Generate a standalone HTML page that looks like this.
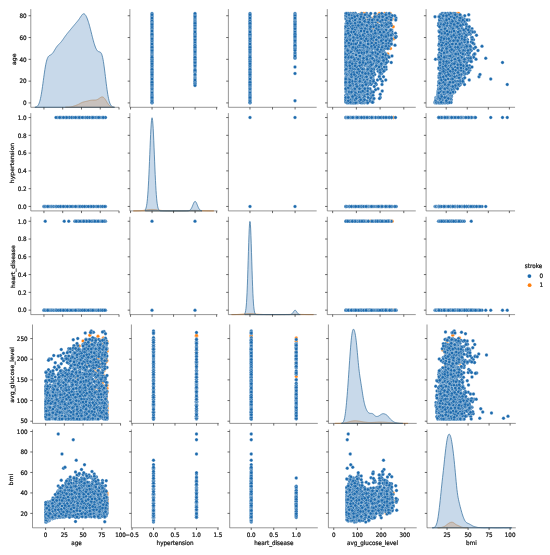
<!DOCTYPE html><html><head><meta charset="utf-8"><title>Pairplot</title><style>html,body{margin:0;padding:0;background:#fff;}svg{display:block;}</style></head><body><svg width="550" height="555" viewBox="0 0 550 555"><defs><marker id="mb" markerUnits="userSpaceOnUse" markerWidth="20" markerHeight="20" refX="10" refY="10" overflow="visible"><circle cx="10" cy="10" r="6.72" fill="#1c6aad" stroke="#fff" stroke-width="1.12"/></marker><marker id="mo" markerUnits="userSpaceOnUse" markerWidth="20" markerHeight="20" refX="10" refY="10" overflow="visible"><circle cx="10" cy="10" r="6.72" fill="#ff7f0e" stroke="#fff" stroke-width="1.12"/></marker><filter id="bl" x="0" y="0" width="1" height="1" color-interpolation-filters="sRGB"><feGaussianBlur in="SourceGraphic" stdDeviation="0.4" result="a"/></filter></defs><rect width="550" height="555" fill="#fff"/><g filter="url(#bl)"><rect width="550" height="555" fill="#fff"/><path d="M65.35 107.3L65.35 107.3 65.59 107.3 65.84 107.29 66.08 107.29 66.33 107.29 66.57 107.29 66.82 107.28 67.06 107.28 67.31 107.27 67.55 107.27 67.8 107.26 68.04 107.25 68.29 107.24 68.53 107.23 68.78 107.21 69.02 107.19 69.27 107.17 69.52 107.15 69.76 107.12 70.01 107.09 70.25 107.05 70.5 107.01 70.74 106.97 70.99 106.92 71.23 106.87 71.48 106.81 71.72 106.75 71.97 106.69 72.21 106.62 72.46 106.55 72.7 106.47 72.95 106.39 73.19 106.31 73.44 106.23 73.68 106.14 73.93 106.06 74.17 105.97 74.42 105.88 74.66 105.8 74.91 105.71 75.16 105.62 75.4 105.54 75.65 105.45 75.89 105.36 76.14 105.27 76.38 105.19 76.63 105.1 76.87 105.01 77.12 104.91 77.36 104.82 77.61 104.71 77.85 104.61 78.1 104.5 78.34 104.39 78.59 104.27 78.83 104.15 79.08 104.02 79.32 103.89 79.57 103.75 79.81 103.62 80.06 103.48 80.3 103.34 80.55 103.21 80.8 103.07 81.04 102.94 81.29 102.82 81.53 102.69 81.78 102.58 82.02 102.47 82.27 102.37 82.51 102.27 82.76 102.18 83 102.1 83.25 102.03 83.49 101.96 83.74 101.89 83.98 101.83 84.23 101.77 84.47 101.72 84.72 101.66 84.96 101.61 85.21 101.56 85.45 101.51 85.7 101.45 85.95 101.4 86.19 101.34 86.44 101.28 86.68 101.22 86.93 101.16 87.17 101.1 87.42 101.04 87.66 100.98 87.91 100.92 88.15 100.85 88.4 100.79 88.64 100.73 88.89 100.67 89.13 100.61 89.38 100.56 89.62 100.51 89.87 100.46 90.11 100.41 90.36 100.36 90.6 100.32 90.85 100.29 91.09 100.25 91.34 100.22 91.59 100.19 91.83 100.17 92.08 100.15 92.32 100.13 92.57 100.12 92.81 100.11 93.06 100.11 93.3 100.1 93.55 100.1 93.79 100.1 94.04 100.1 94.28 100.09 94.53 100.09 94.77 100.08 95.02 100.07 95.26 100.05 95.51 100.03 95.75 100 96 99.96 96.24 99.91 96.49 99.85 96.73 99.78 96.98 99.69 97.23 99.59 97.47 99.48 97.72 99.36 97.96 99.23 98.21 99.08 98.45 98.92 98.7 98.76 98.94 98.59 99.19 98.42 99.43 98.24 99.68 98.06 99.92 97.89 100.17 97.72 100.41 97.56 100.66 97.42 100.9 97.29 101.15 97.17 101.39 97.08 101.64 97.01 101.88 96.96 102.13 96.94 102.37 96.95 102.62 96.99 102.87 97.07 103.11 97.17 103.36 97.31 103.6 97.48 103.85 97.68 104.09 97.91 104.34 98.18 104.58 98.47 104.83 98.78 105.07 99.12 105.32 99.48 105.56 99.86 105.81 100.25 106.05 100.65 106.3 101.06 106.54 101.47 106.79 101.89 107.03 102.3 107.28 102.7 107.52 103.09 107.77 103.47 108.01 103.84 108.26 104.19 108.51 104.52 108.75 104.83 109 105.12 109.24 105.38 109.49 105.63 109.73 105.85 109.98 106.05 110.22 106.23 110.47 106.39 110.71 106.53 110.96 106.65 111.2 106.76 111.45 106.85 111.69 106.93 111.94 107 112.18 107.05 112.43 107.1 112.67 107.14 112.92 107.17 113.16 107.2 113.41 107.22 113.65 107.24 113.9 107.25 114.15 107.26L114.15 107.3Z" fill="#ff7f0e" fill-opacity=".25" stroke="#e0a060" stroke-width="0.75" stroke-linejoin="round"/><path d="M34.9 107.3L34.9 107.19 35.3 107.13 35.7 107.05 36.1 106.93 36.5 106.76 36.9 106.53 37.3 106.23 37.7 105.83 38.1 105.3 38.5 104.64 38.9 103.8 39.3 102.78 39.7 101.54 40.11 100.08 40.51 98.38 40.91 96.43 41.31 94.25 41.71 91.84 42.11 89.24 42.51 86.48 42.91 83.6 43.31 80.67 43.71 77.72 44.11 74.83 44.51 72.04 44.91 69.41 45.31 66.98 45.71 64.78 46.11 62.83 46.51 61.15 46.92 59.73 47.32 58.56 47.72 57.63 48.12 56.9 48.52 56.34 48.92 55.93 49.32 55.61 49.72 55.37 50.12 55.16 50.52 54.95 50.92 54.72 51.32 54.46 51.72 54.14 52.12 53.76 52.52 53.31 52.92 52.8 53.32 52.23 53.73 51.61 54.13 50.96 54.53 50.28 54.93 49.6 55.33 48.92 55.73 48.27 56.13 47.64 56.53 47.05 56.93 46.5 57.33 45.99 57.73 45.51 58.13 45.07 58.53 44.65 58.93 44.24 59.33 43.84 59.73 43.44 60.14 43.02 60.54 42.59 60.94 42.13 61.34 41.65 61.74 41.14 62.14 40.61 62.54 40.07 62.94 39.5 63.34 38.92 63.74 38.34 64.14 37.76 64.54 37.18 64.94 36.61 65.34 36.04 65.74 35.49 66.14 34.95 66.54 34.43 66.95 33.91 67.35 33.4 67.75 32.91 68.15 32.42 68.55 31.93 68.95 31.44 69.35 30.96 69.75 30.48 70.15 30 70.55 29.52 70.95 29.04 71.35 28.56 71.75 28.08 72.15 27.59 72.55 27.11 72.95 26.63 73.35 26.14 73.76 25.66 74.16 25.18 74.56 24.7 74.96 24.22 75.36 23.74 75.76 23.27 76.16 22.8 76.56 22.32 76.96 21.85 77.36 21.37 77.76 20.88 78.16 20.37 78.56 19.85 78.96 19.3 79.36 18.73 79.76 18.14 80.16 17.54 80.57 16.92 80.97 16.32 81.37 15.73 81.77 15.19 82.17 14.71 82.57 14.31 82.97 14.01 83.37 13.83 83.77 13.78 84.17 13.85 84.57 14.07 84.97 14.42 85.37 14.9 85.77 15.49 86.17 16.21 86.57 17.02 86.97 17.94 87.38 18.95 87.78 20.04 88.18 21.22 88.58 22.47 88.98 23.81 89.38 25.21 89.78 26.67 90.18 28.19 90.58 29.75 90.98 31.34 91.38 32.96 91.78 34.57 92.18 36.18 92.58 37.76 92.98 39.3 93.38 40.79 93.78 42.22 94.19 43.57 94.59 44.84 94.99 46.02 95.39 47.1 95.79 48.07 96.19 48.93 96.59 49.67 96.99 50.29 97.39 50.78 97.79 51.16 98.19 51.44 98.59 51.62 98.99 51.74 99.39 51.84 99.79 51.95 100.19 52.12 100.59 52.41 101 52.87 101.4 53.55 101.8 54.5 102.2 55.76 102.6 57.35 103 59.28 103.4 61.54 103.8 64.12 104.2 66.96 104.6 70.03 105 73.24 105.4 76.55 105.8 79.87 106.2 83.13 106.6 86.27 107 89.25 107.4 92 107.81 94.51 108.21 96.75 108.61 98.72 109.01 100.42 109.41 101.86 109.81 103.06 110.21 104.04 110.61 104.83 111.01 105.46 111.41 105.95 111.81 106.32 112.21 106.6 112.61 106.81 113.01 106.96 113.41 107.07 113.81 107.14 114.21 107.2 114.62 107.23L114.62 107.3Z" fill="#2468aa" fill-opacity=".25" stroke="#36709f" stroke-width="0.75" stroke-linejoin="round"/><path transform="scale(.25)" d="M780 329 780 268 780 259 780 290 608 411 780 285 780 255 780 194 780 303 780 311 780 338 780 333 780 176 780 220 780 342 780 185 780 120 780 85 780 198 780 316 780 59 780 76 780 111 780 98 780 150 780 80 780 63 608 54 780 224 780 141 780 163 780 277 780 172 780 107 780 216 780 242 608 411 780 72 780 202 780 89 780 181 608 168 780 263 780 233 780 168 608 133 780 281 608 377 608 220 780 54 608 111 780 102 780 211 780 67 780 137 608 120 780 246 780 325 780 155 608 333 780 159 608 102 608 399 608 409 608 359 780 250 780 207 780 320 608 325 608 364 608 181 780 115 608 409 608 89 608 115 608 150 608 107 608 268 608 233 780 237 608 368 608 372 608 93 608 381 608 159 780 189 608 351 608 281 608 216 608 76 608 63 608 242 608 259 608 185 608 128 608 85 608 403 608 146 608 307 608 355 608 124 780 93 608 211 608 80 608 207 608 237 608 294 608 311 608 320 608 194 608 98 608 67 780 298 608 172 608 346 608 198 608 272 608 224 608 394 608 72 608 202 608 250 780 124 608 386 780 146 608 342 608 189 608 338 608 285 608 390 608 329 780 229 608 141 608 290 608 303 608 263 608 316 608 246 780 133 608 255 608 137 608 298 608 277 608 163 608 155 608 59 780 128 608 176 608 229" fill="none" marker-start="url(#mb)" marker-mid="url(#mb)" marker-end="url(#mb)"/><path transform="scale(.25)" d="M1180 268 1180 220 1180 233 1180 403 1180 189 1180 159 1000 411 1180 141 1180 54 1180 111 1180 198 1180 124 1180 229 1180 194 1180 89 1180 216 1180 102 1180 80 1180 85 1180 133 1180 172 1180 176 1180 155 1180 150 1180 93 1180 107 1180 76 1180 168 1180 120 1180 128 1180 163 1180 67 1180 294 1180 59 1180 63 1180 185 1000 411 1000 168 1000 377 1000 220 1000 54 1180 211 1000 111 1180 137 1000 120 1180 146 1000 333 1000 102 1000 399 1000 409 1000 359 1180 181 1180 224 1000 325 1000 364 1000 181 1000 115 1000 409 1000 89 1180 115 1000 150 1000 107 1000 268 1000 233 1000 368 1000 372 1000 381 1000 159 1000 202 1000 351 1000 281 1000 216 1000 76 1180 72 1000 63 1000 242 1000 259 1000 185 1000 85 1000 403 1000 307 1000 355 1000 98 1000 93 1000 211 1000 80 1000 207 1000 237 1000 294 1000 311 1000 320 1000 194 1180 98 1000 67 1000 172 1000 346 1000 198 1000 272 1000 224 1000 394 1000 72 1180 202 1000 250 1000 124 1000 386 1000 146 1000 342 1000 189 1000 338 1000 285 1000 390 1000 329 1000 141 1000 290 1000 303 1000 263 1000 316 1000 246 1000 133 1000 255 1000 137 1000 298 1000 277 1000 163 1000 155 1000 59 1000 128 1000 176 1000 229" fill="none" marker-start="url(#mb)" marker-mid="url(#mb)" marker-end="url(#mb)"/><path transform="scale(.25)" d="M1573 107 1490 115 1575 155 1562 194 1444 54 1467 80 1454 54 1569 76 1501 59 1524 98 1539 54 1565 98 1551 216 1513 63 1561 54 1417 54 1509 89 1481 72 1494 168 1400 54 1430 59 1494 72 1410 54 1555 80 1461 54 1517 54 1515 59 1494 76 1566 76" fill="none" marker-start="url(#mo)" marker-mid="url(#mo)" marker-end="url(#mo)"/><path transform="scale(.25)" d="M1520 294 1512 355 1383 115 1584 72 1383 185 1529 325 1457 111 1566 72 1521 390 1446 381 1482 233 1528 338 1383 381 1511 277 1519 303 1385 93 1480 311 1500 268 1383 72 1567 120 1545 220 1491 272 1476 377 1534 307 1442 377 1582 133 1502 89 1470 342 1494 281 1579 63 1566 159 1472 80 1384 67 1445 411 1505 338 1390 54 1461 263 1560 120 1481 72 1458 411 1470 67 1526 115 1494 102 1458 346 1384 320 1470 89 1421 411 1445 111 1402 411 1469 277 1472 107 1518 255 1470 216 1526 76 1515 80 1567 141 1513 172 1490 128 1512 137 1563 146 1383 198 1383 224 1583 80 1566 176 1383 133 1568 128 1469 411 1517 307 1403 54 1545 54 1434 410 1492 307 1457 72 1525 67 1544 277 1562 141 1486 202 1484 381 1531 255 1521 377 1491 403 1452 272 1549 124 1420 54 1527 294 1499 298 1524 272 1481 403 1473 368 1400 411 1527 259 1494 320 1383 294 1511 146 1383 329 1491 98 1485 364 1486 272 1438 381 1504 80 1429 411 1471 351 1469 211 1383 259 1387 377 1554 194 1386 93 1384 202 1453 63 1467 54 1513 285 1477 98 1498 194 1517 176 1465 211 1388 411 1464 198 1384 285 1422 54 1479 285 1519 277 1460 137 1480 355 1480 377 1485 390 1459 137 1481 194 1460 386 1555 107 1473 320 1469 115 1505 255 1502 333 1546 115 1383 207 1409 411 1555 141 1540 168 1496 394 1524 146 1541 172 1466 242 1481 281 1521 250 1581 146 1467 146 1484 268 1557 185 1387 386 1383 54 1483 406 1483 80 1510 98 1462 89 1470 316 1542 255 1475 372 1459 351 1455 137 1383 394 1522 294 1526 98 1483 307 1477 93 1383 404 1533 59 1503 76 1446 268 1383 325 1492 220 1492 381 1518 181 1532 250 1491 303 1468 263 1468 307 1496 80 1458 377 1539 155 1474 146 1460 224 1447 329 1387 202 1495 76 1428 409 1383 246 1383 141 1389 115 1478 80 1520 220 1383 176 1482 298 1525 176 1458 311 1537 281 1502 359 1466 338 1384 102 1384 368 1552 224 1469 316 1455 246 1422 54 1474 89 1458 285 1476 220 1544 268 1516 155 1384 150 1471 272 1516 102 1456 394 1535 107 1460 229 1523 211 1460 250 1488 194 1511 128 1524 159 1491 409 1481 237 1533 246 1457 98 1469 285 1472 268 1413 411 1460 202 1463 233 1489 242 1459 333 1486 224 1478 146 1457 386 1413 411 1383 220 1529 364 1502 224 1517 59 1487 102 1541 176 1483 372 1530 233 1545 233 1543 194 1458 202 1565 102 1526 176 1460 368 1487 120 1452 346 1556 102 1500 207 1387 93 1517 111 1526 89 1556 229 1468 242 1525 229 1413 54 1457 76 1510 137 1467 59 1504 198 1513 229 1514 181 1518 394 1545 111 1383 408 1564 163 1493 163 1538 137 1478 207 1383 233 1520 120 1473 181 1479 259 1468 364 1459 172 1444 320 1561 76 1545 120 1383 211 1565 137 1385 364 1466 255 1501 54 1474 298 1480 404 1453 224 1532 224 1501 120 1475 338 1484 372 1392 411 1448 80 1468 320 1515 72 1465 102 1486 207 1383 268 1473 176 1537 93 1383 399 1563 59 1474 137 1511 163 1518 85 1383 237 1392 404 1391 115 1453 233 1386 325 1538 194 1481 155 1557 181 1486 311 1439 409 1395 364 1536 246 1452 351 1544 128 1445 329 1547 172 1384 176 1540 229 1490 408 1384 194 1460 80 1454 172 1488 333 1499 246 1447 54 1537 268 1477 194 1383 250 1544 72 1535 120 1567 141 1383 155 1459 290 1445 272 1457 338 1468 403 1454 67 1485 189 1565 250 1461 338 1531 76 1426 59 1556 89 1468 229 1403 411 1470 242 1460 59 1499 185 1531 102 1535 63 1553 155 1489 237 1389 311 1488 368 1457 410 1551 246 1547 107 1538 211 1454 250 1527 211 1526 141 1489 320 1548 85 1546 150 1498 237 1497 242 1384 263 1568 224 1481 325 1527 102 1507 263 1530 120 1467 102 1384 163 1524 155 1504 146 1398 325 1383 281 1495 290 1515 150 1383 172 1533 80 1543 216 1383 355 1455 320 1449 311 1429 377 1449 294 1452 229 1509 67 1532 224 1493 137 1516 168 1452 220 1456 120 1510 202 1454 168 1517 263 1532 159 1423 368 1502 220 1445 372 1521 242 1390 189 1442 390 1384 76 1527 63 1460 307 1494 320 1429 333 1398 115 1386 290 1525 150 1411 59 1439 390 1473 168 1471 411 1522 85 1546 137 1424 63 1522 168 1402 124 1470 120 1503 111 1514 107 1555 59 1453 303 1440 233 1542 220 1494 325 1482 163 1506 133 1475 63 1556 128 1483 141 1386 67 1434 59 1497 346 1453 394 1502 211 1473 159 1500 124 1383 229 1485 211 1546 250 1441 338 1392 316 1490 259 1539 120 1536 185 1546 176 1390 80 1411 85 1445 141 1391 120 1437 381 1481 246 1532 216 1429 98 1434 124 1384 124 1384 141 1383 107 1453 102 1510 320 1491 233 1407 111 1545 237 1472 202 1385 307 1390 272 1401 410 1515 216 1478 63 1432 405 1426 386 1516 233 1550 159 1398 303 1418 85 1530 185 1527 54 1439 329 1458 207 1508 229 1554 185 1507 229 1461 115 1492 159 1472 224 1523 263 1434 93 1526 168 1454 408 1406 124 1483 128 1487 259 1469 202 1471 355 1530 80 1536 146 1453 159 1559 124 1426 85 1484 338 1455 194 1548 67 1516 211 1492 255 1487 146 1385 128 1433 390 1442 311 1525 255 1446 263 1481 107 1504 102 1452 172 1483 120 1497 146 1535 237 1385 359 1408 411 1425 359 1426 120 1516 242 1553 107 1533 202 1453 176 1384 298 1555 172 1394 124 1476 268 1479 120 1503 67 1419 359 1408 377 1451 372 1488 85 1526 207 1480 176 1552 133 1509 250 1448 307 1436 386 1430 63 1450 216 1403 59 1483 54 1506 224 1470 128 1545 80 1446 399 1394 281 1470 364 1452 155 1542 76 1456 277 1395 298 1439 307 1471 294 1507 115 1458 259 1384 242 1472 250 1453 202 1408 124 1515 246 1433 89 1483 111 1585 146 1391 211 1383 63 1384 294 1543 93 1522 316 1445 355 1460 333 1413 216 1447 202 1436 329 1431 325 1394 333 1422 102 1383 342 1489 89 1426 111 1420 93 1441 59 1462 255 1466 307 1484 220 1444 277 1516 268 1486 233 1416 111 1517 67 1388 242 1441 242 1420 311 1383 159 1514 133 1402 107 1550 76 1531 159 1462 325 1510 80 1394 54 1393 115 1451 411 1447 351 1429 246 1505 159 1450 298 1384 220 1436 364 1550 98 1479 394 1451 76 1410 403 1527 202 1411 146 1458 368 1448 176 1488 294 1495 176 1531 172 1446 250 1421 368 1482 250 1523 281 1450 255 1459 359 1444 342 1426 409 1505 181 1391 277 1481 272 1435 72 1400 281 1544 185 1421 80 1503 172 1400 102 1391 102 1437 159 1534 124 1495 277 1508 242 1384 338 1582 150 1528 277 1439 80 1425 128 1569 63 1385 390 1520 281 1470 163 1544 120 1429 255 1423 329 1440 141 1512 216 1515 150 1388 377 1535 285 1438 390 1422 120 1409 150 1384 277 1447 410 1580 181 1384 63 1396 359 1388 67 1386 54 1542 102 1391 237 1430 163 1389 386 1406 410 1439 115 1441 115 1453 242 1390 294 1389 124 1482 263 1460 181 1441 303 1489 80 1441 355 1457 290 1392 150 1421 172 1422 311 1393 377 1460 163 1402 377 1565 176 1436 133 1487 277 1389 298 1435 224 1528 67 1437 403 1439 316 1445 72 1454 216 1400 410 1443 272 1531 67 1403 390 1417 172 1442 207 1428 172 1418 372 1451 346 1384 150 1440 364 1412 346 1537 128 1471 277 1393 72 1444 189 1485 124 1426 259 1487 172 1454 294 1404 107 1473 294 1467 229 1525 163 1400 211 1418 216 1501 133 1393 85 1387 185 1460 294 1554 141 1414 168 1441 410 1422 216 1388 410 1423 399 1530 229 1558 67 1437 107 1452 368 1383 168 1450 277 1411 216 1397 98 1392 172 1408 410 1429 185 1569 137 1397 390 1425 246 1394 410 1543 80 1442 202 1397 298 1468 329 1435 189 1445 59 1519 207 1399 67 1407 233 1514 189 1482 224 1439 342 1424 137 1469 189 1428 351 1480 115 1425 216 1514 120 1440 229 1426 198 1398 189 1392 233 1400 272 1396 294 1425 207 1398 185 1442 168 1435 76 1383 216 1408 93 1425 246 1427 294 1454 368 1406 403 1479 333 1400 355 1432 307 1395 285 1486 185 1534 242 1453 403 1396 72 1418 411 1401 242 1392 386 1499 67 1453 98 1446 259 1423 411 1472 176 1484 311 1399 72 1450 181 1423 76 1420 202 1423 128 1383 137 1399 202 1454 133 1547 72 1494 368 1423 346 1409 202 1437 80 1458 399 1409 359 1389 263 1496 181 1447 93 1398 338 1434 89 1564 141 1386 351 1422 159 1543 320 1436 150 1452 250 1421 128 1439 403 1453 216 1457 133 1396 390 1390 220 1400 150 1471 333 1392 168 1419 150 1563 120 1426 263 1409 368 1405 346 1454 233 1401 168 1403 155 1545 59 1411 194 1437 346 1440 76 1398 285 1430 207 1500 189 1518 133 1428 285 1490 233 1553 93 1443 399 1425 346 1435 294 1454 189 1388 85 1436 281 1470 377 1393 137 1424 220 1385 259 1399 290 1408 176 1457 124 1429 277 1426 233 1461 185 1438 202 1521 290 1557 54 1399 224 1420 155 1419 372 1409 316 1505 263 1413 333 1406 316 1423 272 1456 146 1441 128 1434 351 1410 364 1494 107 1456 211 1396 342 1413 338 1526 133 1441 111 1388 202 1396 59 1410 102 1393 181 1396 211 1438 263 1384 311 1410 307 1398 372 1410 268 1445 102 1436 368 1445 368 1403 294 1444 67 1410 133 1418 325 1409 333 1401 155 1485 285 1451 364 1384 137 1444 124 1419 120 1524 198 1397 146 1399 329 1401 172 1419 386 1383 229 1564 72 1420 155 1422 255 1391 155 1413 229 1408 307 1407 246 1402 399 1399 224 1399 128 1394 233 1400 246 1418 290 1409 325 1446 211 1399 285 1451 141 1439 250 1402 303 1407 259 1412 224 1411 394 1439 102 1566 155 1439 325 1467 333 1383 333 1392 250 1383 355 1400 159 1433 102 1420 399 1401 409 1419 259 1495 150 1399 311 1438 355 1411 359 1418 307 1526 141 1385 250 1438 181 1551 194 1449 290 1383 329 1412 246 1418 298 1413 128 1403 207 1490 216 1420 80 1420 255 1455 181 1425 233 1442 172 1440 224 1427 320 1414 150 1422 325 1562 93 1418 364 1407 93 1404 372 1411 390 1461 329 1426 316 1398 181 1425 386 1446 115 1397 255 1490 409 1469 128 1417 355 1402 351 1383 316 1440 89 1409 224 1418 277 1427 150 1397 351 1458 85 1420 355 1435 211 1409 115 1402 93 1408 63 1430 150 1400 141 1397 368 1483 107 1394 202 1427 268 1406 128 1416 63 1438 141 1411 303 1417 233 1433 237 1462 294 1468 237 1406 368 1413 163 1422 372 1472 390 1402 93 1429 189 1535 128 1419 381 1389 159 1429 202 1408 189 1393 351 1544 163 1413 72 1415 185 1415 176 1402 281 1397 316 1422 255 1511 216 1401 76 1409 72 1420 189 1450 342 1429 63 1395 250 1418 242 1486 259 1383 390 1383 185 1416 128 1395 229 1398 85 1420 263 1405 307 1393 403 1441 146 1402 246 1406 307 1459 355 1546 98 1444 124 1390 93 1490 211 1564 80 1468 207 1417 237 1390 198 1405 176 1426 311 1422 194 1399 320 1409 194 1403 342 1425 338 1448 98 1445 155 1419 67 1395 172 1410 277 1428 346 1510 198 1528 189 1401 272 1408 224 1425 394 1429 290 1455 72 1391 202 1465 155 1400 250 1391 124 1438 285 1410 386 1544 146 1400 342 1387 163 1412 189 1464 338 1408 285 1409 290 1393 390 1398 329 1411 229 1428 141 1415 290 1422 303 1399 263 1423 316 1514 246 1393 133 1409 255 1421 137 1406 298 1417 298 1433 277 1559 163 1486 155 1543 59 1520 128 1423 176 1405 229" fill="none" marker-start="url(#mb)" marker-mid="url(#mb)" marker-end="url(#mb)"/><path transform="scale(.25)" d="M1829 54 1808 54 1835 54" fill="none" marker-start="url(#mo)" marker-mid="url(#mo)" marker-end="url(#mo)"/><path transform="scale(.25)" d="M1772 54 1763 285 1850 115 1851 250 1868 220 1860 268 1875 220 1869 246 1845 89 1759 246 1754 342 1756 351 1865 146 1761 346 1859 63 1756 124 1853 316 1849 72 1898 128 1760 411 1879 281 1831 346 1876 80 1743 399 1842 338 1837 290 1768 411 1849 246 1884 189 1875 115 1859 285 1857 98 1849 242 1861 124 1829 59 1878 263 1857 298 1870 159 1896 176 1878 181 1852 176 1860 141 1862 133 1777 54 1866 98 1866 141 1740 67 1851 120 1864 255 1840 338 1867 233 1852 281 1862 93 1806 386 1759 259 1868 294 1880 272 1760 242 1760 338 1851 290 1874 281 1873 220 1757 277 1851 294 1756 303 1900 216 1865 163 1755 329 1764 124 1850 89 1856 133 1894 220 1928 185 1758 155 1885 202 1852 272 1896 194 1886 150 1790 54 1886 246 1864 98 1744 394 1889 150 1854 189 1792 411 1803 54 1857 76 1847 137 1883 237 1829 346 1860 294 1867 107 1859 124 1744 390 1874 220 1870 198 1842 333 1752 377 1888 115 1748 411 1756 67 1803 390 1881 137 1805 399 1846 107 1878 211 1894 159 1856 220 1756 311 1781 411 1801 394 1805 381 1778 411 1887 124 1888 159 1844 133 1845 255 1755 93 1837 342 1747 394 1762 141 1760 85 1890 128 1852 316 1800 381 1834 80 1851 98 1751 372 1746 390 1858 338 1852 329 1758 351 1846 268 1798 54 1742 237 1869 176 1877 107 1822 80 1841 246 1870 80 1759 255 1761 85 1873 272 1844 303 1789 411 1764 285 1740 411 1866 250 1875 59 1846 194 1840 311 1859 216 1880 198 1852 181 1943 233 1861 194 1759 211 1836 76 1781 410 1912 202 1833 72 1836 89 1799 54 1871 168 1763 115 1755 220 1895 229 1864 115 1872 137 1847 115 1819 368 1740 408 1820 351 1851 259 1752 364 1847 189 1850 76 1854 211 1834 107 1847 237 1803 408 1796 381 1828 342 1764 89 1759 76 1857 85 1795 390 1849 233 1855 290 1853 285 1837 194 1845 281 1761 342 1853 229 1759 168 1888 268 1860 237 1768 54 1885 168 1757 224 1748 390 1827 311 1763 224 1850 185 2029 338 1823 76 1839 333 1754 102 1772 411 1840 320 1882 229 1761 59 1861 159 1830 63 1859 246 1904 237 1761 163 1845 268 1838 133 1774 115 1843 255 1822 76 1868 263 1794 377 1870 211 1879 133 1762 342 1840 325 1881 124 1820 311 1755 237 1779 120 1769 255 1865 277 1848 229 1763 281 1754 355 1840 141 1837 294 1755 272 1750 386 1752 390 1765 120 1850 202 1852 168 1762 263 1898 216 1812 372 1759 185 1877 320 1762 107 1846 85 1762 242 1745 411 1770 85 1773 399 1843 63 1835 67 1770 93 1770 107 1761 237 1778 59 1876 128 1817 320 1756 325 1842 163 1791 390 1769 128 1876 185 1859 311 1759 325 1776 93 1762 333 1763 141 1753 381 1780 124 1830 355 1772 107 1816 320 1748 394 1823 111 1916 307 1793 372 1804 410 1823 63 1853 263 1814 54 1778 93 1820 80 1767 246 1823 124 1752 403 1816 194 1783 198 1840 224 1787 386 1830 325 1830 146 1803 372 1758 294 1778 163 1815 359 1840 120 1877 242 1831 159 1818 172 1760 185 1765 137 1874 233 1842 207 1843 67 1766 242 1842 124 1816 120 1766 146 1863 181 1823 198 1963 316 1765 59 1860 202 1783 54 1825 72 1748 408 1840 268 1756 181 1759 399 1785 159 1833 159 1872 202 1744 406 1840 242 1851 325 1839 281 1755 411 1751 394 1790 390 1764 98 1816 89 1792 403 1810 63 1786 386 1766 216 1824 229 1777 107 1764 185 1765 133 1891 172 1774 141 1835 98 1828 141 1762 316 1824 89 1761 303 1784 111 1797 111 1784 155 1854 202 1818 59 1844 281 1769 233 1789 404 1826 67 1826 242 1794 246 1764 80 1772 159 1832 133 1758 107 1765 224 1850 211 1779 76 1831 255 1842 211 1778 80 1792 54 1834 115 1768 411 1811 159 1810 150 1811 364 1744 403 1849 181 1781 146 1829 168 1775 250 1804 67 1776 224 1811 355 1846 72 1807 80 1773 102 1804 102 1808 189 1766 294 1849 159 1836 93 1809 150 1743 404 1873 120 1795 255 1855 150 1858 168 1810 333 1768 377 1780 410 1817 181 1808 67 1820 54 1799 102 1777 224 1818 237 1820 268 1864 141 1753 386 1773 346 1814 146 1746 410 1814 115 1801 115 1806 368 1771 242 1818 124 1803 351 1816 124 1832 263 1825 250 1833 338 1851 80 1838 172 1814 311 1758 333 1784 390 1817 207 1824 163 1753 377 1833 220 1828 67 1815 176 1822 159 1844 298 1823 224 1771 403 1753 410 1822 255 1801 342 1763 181 1845 172 1775 372 1794 329 1837 150 1755 364 1821 128 1866 277 1833 281 1837 72 1860 189 1839 124 1772 259 1777 172 1803 294 1800 250 1782 107 1757 198 1847 229 1755 359 1762 237 1804 163 1836 233 1818 211 1767 133 1771 410 1798 172 1771 410 1787 399 1811 229 1823 107 1792 168 1772 189 1762 351 1808 277 1804 216 1797 410 1807 185 1810 211 1816 259 1771 351 1868 80 1799 329 1822 189 1821 59 1762 67 1794 207 1801 67 1867 189 1814 224 1776 272 1851 216 1793 120 1831 198 1843 189 1787 272 1824 220 1830 272 1812 176 1844 272 1874 290 1770 294 1782 364 1804 207 1799 346 1787 168 1757 146 1777 216 1807 294 1768 333 1789 307 1790 185 1806 242 1836 185 1766 72 1757 411 1774 242 1790 67 1812 259 1763 411 1824 176 1769 72 1784 76 1800 268 1838 137 1837 202 1789 72 1753 368 1758 80 1805 359 1804 263 1834 181 1821 141 1793 351 1772 159 1769 150 1796 281 1817 250 1819 133 1768 403 1819 216 1779 133 1788 89 1774 181 1786 390 1757 176 1798 220 1773 150 1764 168 1859 150 1855 120 1824 333 1780 303 1812 368 1833 233 1812 329 1793 59 1792 194 1782 281 1763 346 1882 233 1815 93 1771 399 1769 346 1800 85 1777 377 1785 137 1806 220 1805 259 1810 290 1823 98 1846 176 1792 124 1768 277 1797 233 1753 394 1802 185 1779 181 1827 290 1802 54 1796 224 1806 229 1783 372 1801 316 1803 263 1758 333 1804 316 1784 329 1765 272 1847 146 1758 128 1767 351 1808 303 1815 120 1813 107 1789 211 1820 338 1806 111 1781 202 1795 59 1842 102 1839 181 1828 211 1771 268 1791 263 1763 311 1777 307 1754 372 1786 268 1778 102 1786 368 1774 368 1817 294 1786 67 1800 133 1809 325 1787 333 1759 155 1765 364 1815 137 1814 124 1808 120 1810 198 1798 146 1815 329 1771 172 1786 72 1775 255 1848 155 1775 246 1769 399 1810 281 1801 102 1801 224 1799 128 1789 233 1794 246 1767 290 1770 325 1829 211 1811 285 1790 141 1794 250 1800 303 1831 259 1778 224 1793 394 1788 102 1804 155 1822 325 1784 333 1780 333 1760 250 1776 355 1763 159 1821 102 1760 399 1765 409 1785 259 1780 150 1809 311 1797 355 1792 359 1787 307 1906 141 2010 250 1781 181 1770 194 1790 290 1815 329 1774 329 1857 246 1781 298 1778 128 1779 207 1832 216 1838 80 1767 181 1783 233 1792 172 1792 224 1766 320 1822 150 1818 325 1831 93 1796 364 1802 93 1801 372 1812 329 1776 316 1799 181 1754 386 1812 115 1786 255 1786 409 1794 355 1783 351 1812 316 1802 89 1783 224 1793 277 1807 150 1792 351 1781 85 1780 355 1783 211 1780 115 1789 93 1780 63 1766 150 1789 141 1791 368 1829 107 1814 202 1772 268 1773 63 1815 255 1804 141 1828 303 1784 189 1779 233 1818 237 1834 294 1820 237 1760 368 1799 163 1755 372 1756 390 1805 93 1902 189 1805 128 1765 381 1858 159 1801 202 1790 189 1790 351 1831 163 1841 72 1867 185 1809 176 1822 281 1792 316 1810 255 1823 216 1796 76 1761 72 1802 189 1821 342 1786 63 1841 250 1837 242 1843 259 1771 390 1881 185 1797 128 1783 229 1810 85 1773 307 1785 403 1804 146 1786 246 1818 307 1761 355 1816 98 1816 124 1780 93 1776 211 1786 80 1788 207 1858 237 1760 294 1786 198 1785 176 1836 311 1834 194 1782 320 1786 194 1794 342 1780 338 1775 98 1787 155 1757 67 1836 298 1845 172 1774 277 1811 346 1807 198 1809 272 1801 224 1761 394 1778 290 1817 72 1767 202 1795 155 1820 250 1788 124 1774 285 1767 386 1807 146 1791 342 1814 163 1831 189 1795 338 1801 285 1831 290 1779 390 1800 329 1756 229 1815 141 1832 290 1785 303 1782 263 1810 316 1884 246 1780 133 1817 255 1791 137 1920 298 1794 298 1812 277 1776 155 1840 59 1833 128 1839 176 1777 229" fill="none" marker-start="url(#mb)" marker-mid="url(#mb)" marker-end="url(#mb)"/><path transform="scale(.25)" d="M275 470 260 470 263 470 284 470 251 470 245 470 230 470 224 470 323 470 242 470 404 470 416 470 422 826 305 470 269 470 341 470 386 470 311 470 176 826 176 826 410 470 320 470 398 470 335 470 278 470 344 470 266 470 422 470 389 470 314 470 413 470 365 470 290 470 236 470 353 470 350 470 287 470 317 470 239 470 209 826 380 470 177 826 380 826 386 826 296 470 206 826 203 826 395 826 197 826 329 470 311 826 332 826 371 826 401 826 182 826 359 826 215 826 374 826 395 470 314 826 404 826 317 826 296 826 245 826 239 826 392 826 413 826 254 470 341 826 221 826 323 826 272 826 305 826 188 826 410 826 320 826 374 470 194 826 359 470 224 826 329 826 227 826 263 826 191 826 233 826 302 470 362 826 260 826 251 826 278 826 242 826 290 826 368 470 284 826 365 826 254 826 269 826 347 826 353 826 419 826 371 470 338 826 302 826" fill="none" marker-start="url(#mb)" marker-mid="url(#mb)" marker-end="url(#mb)"/><path d="M133.3 210.9L133.3 210.88 133.71 210.88 134.11 210.88 134.52 210.87 134.92 210.87 135.33 210.86 135.73 210.85 136.14 210.84 136.54 210.83 136.95 210.82 137.35 210.81 137.76 210.8 138.16 210.78 138.56 210.76 138.97 210.74 139.37 210.72 139.78 210.69 140.18 210.66 140.59 210.63 140.99 210.6 141.4 210.57 141.8 210.53 142.21 210.49 142.61 210.44 143.02 210.4 143.42 210.35 143.83 210.3 144.23 210.25 144.64 210.19 145.04 210.14 145.44 210.08 145.85 210.03 146.25 209.97 146.66 209.92 147.06 209.86 147.47 209.81 147.87 209.76 148.28 209.71 148.68 209.67 149.09 209.62 149.49 209.59 149.9 209.56 150.3 209.53 150.71 209.51 151.11 209.49 151.52 209.48 151.92 209.47 152.33 209.47 152.73 209.48 153.13 209.49 153.54 209.51 153.94 209.54 154.35 209.57 154.75 209.6 155.16 209.64 155.56 209.68 155.97 209.73 156.37 209.78 156.78 209.83 157.18 209.88 157.59 209.94 157.99 209.99 158.4 210.05 158.8 210.1 159.21 210.16 159.61 210.21 160.01 210.27 160.42 210.32 160.82 210.37 161.23 210.41 161.63 210.46 162.04 210.5 162.44 210.54 162.85 210.58 163.25 210.61 163.66 210.65 164.06 210.67 164.47 210.7 164.87 210.73 165.28 210.75 165.68 210.77 166.09 210.79 166.49 210.8 166.89 210.81 167.3 210.83 167.7 210.84 168.11 210.85 168.51 210.86 168.92 210.86 169.32 210.87 169.73 210.87 170.13 210.88 170.54 210.88 170.94 210.88 171.35 210.89 171.75 210.89 172.16 210.89 172.56 210.89 172.97 210.89 173.37 210.89 173.77 210.9 174.18 210.9 174.58 210.9 174.99 210.9 175.39 210.9 175.8 210.89 176.2 210.89 176.61 210.89 177.01 210.89 177.42 210.89 177.82 210.89 178.23 210.89 178.63 210.88 179.04 210.88 179.44 210.88 179.85 210.87 180.25 210.87 180.66 210.87 181.06 210.86 181.46 210.85 181.87 210.85 182.27 210.84 182.68 210.83 183.08 210.82 183.49 210.81 183.89 210.8 184.3 210.79 184.7 210.78 185.11 210.76 185.51 210.75 185.92 210.73 186.32 210.72 186.73 210.7 187.13 210.68 187.54 210.66 187.94 210.64 188.34 210.62 188.75 210.6 189.15 210.59 189.56 210.57 189.96 210.55 190.37 210.53 190.77 210.51 191.18 210.49 191.58 210.48 191.99 210.46 192.39 210.45 192.8 210.44 193.2 210.43 193.61 210.42 194.01 210.41 194.42 210.41 194.82 210.41 195.22 210.41 195.63 210.41 196.03 210.41 196.44 210.42 196.84 210.43 197.25 210.43 197.65 210.45 198.06 210.46 198.46 210.47 198.87 210.49 199.27 210.51 199.68 210.52 200.08 210.54 200.49 210.56 200.89 210.58 201.3 210.6 201.7 210.62 202.1 210.64 202.51 210.66 202.91 210.67 203.32 210.69 203.72 210.71 204.13 210.73 204.53 210.74 204.94 210.76 205.34 210.77 205.75 210.78 206.15 210.8 206.56 210.81 206.96 210.82 207.37 210.83 207.77 210.84 208.18 210.84 208.58 210.85 208.99 210.86 209.39 210.86 209.79 210.87 210.2 210.87 210.6 210.88 211.01 210.88 211.41 210.88 211.82 210.89 212.22 210.89 212.63 210.89 213.03 210.89 213.44 210.89 213.84 210.89L213.84 210.9Z" fill="#ff7f0e" fill-opacity=".25" stroke="#e0a060" stroke-width="0.75" stroke-linejoin="round"/><path d="M145.2 210.9L145.2 209.87 145.49 209.41 145.77 208.78 146.06 207.93 146.34 206.81 146.63 205.36 146.91 203.51 147.2 201.18 147.48 198.33 147.77 194.88 148.06 190.81 148.34 186.1 148.63 180.75 148.91 174.81 149.2 168.38 149.48 161.57 149.77 154.55 150.05 147.53 150.34 140.74 150.62 134.43 150.91 128.83 151.19 124.19 151.48 120.7 151.76 118.52 152.05 117.76 152.33 118.44 152.62 120.53 152.9 123.94 153.19 128.52 153.47 134.06 153.76 140.34 154.04 147.11 154.33 154.12 154.61 161.14 154.9 167.96 155.18 174.43 155.47 180.4 155.75 185.79 156.04 190.54 156.32 194.65 156.61 198.13 156.89 201.02 157.18 203.38 157.46 205.26 157.75 206.73 158.03 207.87 158.32 208.73 158.6 209.37 158.89 209.84 159.17 210.18 159.46 210.41 159.74 210.58 160.03 210.69 160.31 210.77 160.6 210.81 160.89 210.85 161.17 210.87 161.46 210.88 161.74 210.89 162.03 210.89 162.31 210.9 162.6 210.9 162.88 210.9 163.17 210.9 163.45 210.9 163.74 210.9 164.02 210.9 164.31 210.9 164.59 210.9 164.88 210.9 165.16 210.9 165.45 210.9 165.73 210.9 166.02 210.9 166.3 210.9 166.59 210.9 166.87 210.9 167.16 210.9 167.44 210.9 167.73 210.9 168.01 210.9 168.3 210.9 168.58 210.9 168.87 210.9 169.15 210.9 169.44 210.9 169.72 210.9 170.01 210.9 170.29 210.9 170.58 210.9 170.86 210.9 171.15 210.9 171.43 210.9 171.72 210.9 172 210.9 172.29 210.9 172.57 210.9 172.86 210.9 173.14 210.9 173.43 210.9 173.72 210.9 174 210.9 174.29 210.9 174.57 210.9 174.86 210.9 175.14 210.9 175.43 210.9 175.71 210.9 176 210.9 176.28 210.9 176.57 210.9 176.85 210.9 177.14 210.9 177.42 210.9 177.71 210.9 177.99 210.9 178.28 210.9 178.56 210.9 178.85 210.9 179.13 210.9 179.42 210.9 179.7 210.9 179.99 210.9 180.27 210.9 180.56 210.9 180.84 210.9 181.13 210.9 181.41 210.9 181.7 210.9 181.98 210.9 182.27 210.9 182.55 210.9 182.84 210.9 183.12 210.9 183.41 210.9 183.69 210.9 183.98 210.9 184.26 210.9 184.55 210.9 184.83 210.9 185.12 210.9 185.4 210.9 185.69 210.9 185.97 210.9 186.26 210.89 186.55 210.89 186.83 210.89 187.12 210.88 187.4 210.87 187.69 210.85 187.97 210.83 188.26 210.79 188.54 210.74 188.83 210.68 189.11 210.59 189.4 210.48 189.68 210.32 189.97 210.13 190.25 209.89 190.54 209.6 190.82 209.24 191.11 208.82 191.39 208.34 191.68 207.79 191.96 207.18 192.25 206.52 192.53 205.82 192.82 205.11 193.1 204.39 193.39 203.7 193.67 203.06 193.96 202.5 194.24 202.03 194.53 201.68 194.81 201.47 195.1 201.4 195.38 201.48 195.67 201.7 195.95 202.05 196.24 202.53 196.52 203.1 196.81 203.74 197.09 204.44 197.38 205.15 197.66 205.87 197.95 206.56 198.23 207.22 198.52 207.82 198.81 208.37 199.09 208.85 199.38 209.27 199.66 209.62 199.95 209.91 200.23 210.15 200.52 210.33 200.8 210.48 201.09 210.6 201.37 210.68 201.66 210.75 201.94 210.79L201.94 210.9Z" fill="#2468aa" fill-opacity=".25" stroke="#36709f" stroke-width="0.75" stroke-linejoin="round"/><path transform="scale(.25)" d="M1180 470 1180 826 1000 470 1000 826" fill="none" marker-start="url(#mb)" marker-mid="url(#mb)" marker-end="url(#mb)"/><path transform="scale(.25)" d="M1573 470 1575 470" fill="none" marker-start="url(#mo)" marker-mid="url(#mo)" marker-end="url(#mo)"/><path transform="scale(.25)" d="M1383 470 1567 470 1579 826 1495 470 1467 470 1461 470 1509 470 1501 470 1447 470 1565 470 1503 470 1452 470 1514 470 1473 470 1491 470 1526 470 1536 470 1559 470 1481 470 1417 470 1479 470 1415 470 1488 470 1470 470 1542 470 1585 826 1422 470 1514 470 1531 470 1582 470 1440 470 1580 826 1424 470 1460 470 1487 470 1537 826 1487 470 1473 826 1554 826 1414 470 1530 826 1558 826 1569 826 1424 470 1479 826 1383 470 1547 470 1434 470 1543 826 1426 470 1454 470 1500 826 1518 826 1553 470 1436 470 1457 470 1521 826 1557 470 1505 826 1456 470 1526 470 1396 470 1444 470 1384 470 1524 826 1564 826 1400 470 1566 470 1400 470 1495 826 1526 826 1385 470 1551 826 1403 470 1427 470 1446 470 1383 826 1483 826 1468 470 1472 826 1429 470 1535 470 1450 826 1383 826 1441 826 1459 826 1546 826 1444 826 1390 470 1490 826 1564 826 1468 826 1448 826 1445 826 1407 470 1510 826 1528 826 1455 826 1465 826 1391 470 1438 826 1544 470 1387 826 1464 826 1393 826 1398 826 1411 470 1428 826 1415 826 1399 826 1423 826 1514 826 1393 470 1409 826 1406 826 1417 826 1433 826 1559 826 1486 826 1543 826 1520 470 1423 826 1405 826" fill="none" marker-start="url(#mb)" marker-mid="url(#mb)" marker-end="url(#mb)"/><path transform="scale(.25)" d="M1854 470 1754 470 1898 470 1928 826 1881 470 1888 470 1761 470 1943 826 1912 826 1895 826 1740 826 1850 470 1888 826 1885 470 2029 470 1861 470 1904 826 1870 470 1755 470 1898 826 1876 470 1916 826 1877 826 1874 470 1963 470 1751 826 1891 826 1846 470 1743 826 1873 826 1864 470 1746 826 1824 470 1753 826 1845 470 1866 826 1860 826 1867 826 1851 826 1874 826 1796 470 1774 470 1859 826 1855 826 1778 470 1842 470 1828 470 1754 826 1786 470 1800 470 1815 470 1848 826 1794 470 1770 470 1804 470 1763 470 1906 826 2010 470 1779 470 1766 470 1754 826 1812 470 1828 826 1820 470 1755 826 1756 826 1902 470 1805 470 1858 826 1790 470 1867 826 1823 826 1821 826 1881 826 1773 826 1761 826 1780 470 1858 826 1757 826 1836 470 1845 826 1807 826 1809 826 1801 826 1761 826 1820 826 1788 470 1774 826 1767 826 1807 470 1831 826 1801 826 1831 826 1800 826 1756 470 1832 826 1785 826 1782 826 1810 826 1884 826 1780 470 1817 826 1791 826 1920 826 1794 826 1812 826 1776 826 1840 826 1833 470 1839 826 1777 826" fill="none" marker-start="url(#mb)" marker-mid="url(#mb)" marker-end="url(#mb)"/><path transform="scale(.25)" d="M275 885 299 885 181 885 422 885 374 885 302 885 326 885 311 885 401 885 338 885 353 885 356 885 395 885 386 885 407 885 344 885 377 885 371 885 347 885 257 885 419 885 416 885 332 885 176 1241 176 1241 422 1241 314 885 365 885 359 885 335 885 305 885 209 1241 380 1241 177 1241 380 885 386 1241 206 1241 203 1241 197 1241 311 1241 410 885 332 1241 401 1241 182 1241 215 1241 392 1241 395 1241 314 1241 404 1241 317 1241 296 1241 245 1241 239 1241 392 885 413 1241 341 1241 221 1241 323 1241 272 1241 305 1241 188 1241 410 1241 320 885 374 1241 194 1241 359 1241 224 1241 329 1241 227 1241 263 1241 191 1241 233 1241 362 1241 260 1241 251 1241 278 1241 242 1241 290 1241 284 1241 365 1241 254 1241 269 1241 347 1241 353 1241 419 1241 371 1241 338 1241 302 1241" fill="none" marker-start="url(#mb)" marker-mid="url(#mb)" marker-end="url(#mb)"/><path transform="scale(.25)" d="M780 885 608 885 780 1241 608 1241" fill="none" marker-start="url(#mb)" marker-mid="url(#mb)" marker-end="url(#mb)"/><path d="M231.54 314.6L231.54 314.59 231.95 314.59 232.37 314.58 232.78 314.58 233.19 314.57 233.6 314.57 234.01 314.56 234.43 314.56 234.84 314.55 235.25 314.54 235.66 314.53 236.07 314.51 236.48 314.5 236.9 314.49 237.31 314.47 237.72 314.45 238.13 314.43 238.54 314.41 238.96 314.38 239.37 314.35 239.78 314.32 240.19 314.29 240.6 314.26 241.02 314.22 241.43 314.18 241.84 314.14 242.25 314.1 242.66 314.06 243.08 314.01 243.49 313.97 243.9 313.93 244.31 313.88 244.72 313.84 245.13 313.79 245.55 313.75 245.96 313.71 246.37 313.67 246.78 313.64 247.19 313.61 247.61 313.58 248.02 313.56 248.43 313.54 248.84 313.52 249.25 313.51 249.67 313.5 250.08 313.5 250.49 313.51 250.9 313.51 251.31 313.53 251.73 313.55 252.14 313.57 252.55 313.6 252.96 313.63 253.37 313.66 253.79 313.7 254.2 313.73 254.61 313.78 255.02 313.82 255.43 313.86 255.84 313.91 256.26 313.95 256.67 314 257.08 314.04 257.49 314.08 257.9 314.12 258.32 314.16 258.73 314.2 259.14 314.24 259.55 314.28 259.96 314.31 260.38 314.34 260.79 314.37 261.2 314.39 261.61 314.42 262.02 314.44 262.44 314.46 262.85 314.48 263.26 314.49 263.67 314.51 264.08 314.52 264.5 314.53 264.91 314.54 265.32 314.55 265.73 314.56 266.14 314.57 266.55 314.57 266.97 314.58 267.38 314.58 267.79 314.58 268.2 314.59 268.61 314.59 269.03 314.59 269.44 314.59 269.85 314.59 270.26 314.6 270.67 314.6 271.09 314.6 271.5 314.6 271.91 314.6 272.32 314.6 272.73 314.6 273.15 314.6 273.56 314.6 273.97 314.6 274.38 314.6 274.79 314.6 275.2 314.6 275.62 314.6 276.03 314.6 276.44 314.6 276.85 314.6 277.26 314.6 277.68 314.59 278.09 314.59 278.5 314.59 278.91 314.59 279.32 314.59 279.74 314.59 280.15 314.58 280.56 314.58 280.97 314.58 281.38 314.58 281.8 314.57 282.21 314.57 282.62 314.56 283.03 314.56 283.44 314.55 283.86 314.54 284.27 314.54 284.68 314.53 285.09 314.52 285.5 314.51 285.91 314.5 286.33 314.49 286.74 314.48 287.15 314.47 287.56 314.46 287.97 314.45 288.39 314.44 288.8 314.42 289.21 314.41 289.62 314.4 290.03 314.39 290.45 314.38 290.86 314.37 291.27 314.36 291.68 314.35 292.09 314.34 292.51 314.33 292.92 314.32 293.33 314.32 293.74 314.31 294.15 314.31 294.57 314.3 294.98 314.3 295.39 314.3 295.8 314.31 296.21 314.31 296.62 314.31 297.04 314.32 297.45 314.32 297.86 314.33 298.27 314.34 298.68 314.35 299.1 314.36 299.51 314.37 299.92 314.38 300.33 314.39 300.74 314.41 301.16 314.42 301.57 314.43 301.98 314.44 302.39 314.45 302.8 314.47 303.22 314.48 303.63 314.49 304.04 314.5 304.45 314.51 304.86 314.52 305.27 314.52 305.69 314.53 306.1 314.54 306.51 314.55 306.92 314.55 307.33 314.56 307.75 314.56 308.16 314.57 308.57 314.57 308.98 314.58 309.39 314.58 309.81 314.58 310.22 314.59 310.63 314.59 311.04 314.59 311.45 314.59 311.87 314.59 312.28 314.59 312.69 314.6 313.1 314.6 313.51 314.6L313.51 314.6Z" fill="#ff7f0e" fill-opacity=".25" stroke="#e0a060" stroke-width="0.75" stroke-linejoin="round"/><path d="M244.83 314.6L244.83 313.56 245.11 312.93 245.39 311.99 245.67 310.62 245.94 308.68 246.22 306.04 246.5 302.55 246.78 298.07 247.06 292.51 247.34 285.86 247.61 278.19 247.89 269.68 248.17 260.62 248.45 251.44 248.73 242.62 249.01 234.72 249.28 228.27 249.56 223.73 249.84 221.46 250.12 221.62 250.4 224.21 250.68 229.03 250.95 235.71 251.23 243.76 251.51 252.66 251.79 261.85 252.07 270.86 252.35 279.27 252.63 286.82 252.9 293.32 253.18 298.73 253.46 303.07 253.74 306.44 254.02 308.98 254.3 310.83 254.57 312.14 254.85 313.03 255.13 313.63 255.41 314.01 255.69 314.26 255.97 314.4 256.24 314.49 256.52 314.54 256.8 314.57 257.08 314.58 257.36 314.59 257.64 314.6 257.91 314.6 258.19 314.6 258.47 314.6 258.75 314.6 259.03 314.6 259.31 314.6 259.58 314.6 259.86 314.6 260.14 314.6 260.42 314.6 260.7 314.6 260.98 314.6 261.25 314.6 261.53 314.6 261.81 314.6 262.09 314.6 262.37 314.6 262.65 314.6 262.92 314.6 263.2 314.6 263.48 314.6 263.76 314.6 264.04 314.6 264.32 314.6 264.59 314.6 264.87 314.6 265.15 314.6 265.43 314.6 265.71 314.6 265.99 314.6 266.26 314.6 266.54 314.6 266.82 314.6 267.1 314.6 267.38 314.6 267.66 314.6 267.93 314.6 268.21 314.6 268.49 314.6 268.77 314.6 269.05 314.6 269.33 314.6 269.6 314.6 269.88 314.6 270.16 314.6 270.44 314.6 270.72 314.6 271 314.6 271.27 314.6 271.55 314.6 271.83 314.6 272.11 314.6 272.39 314.6 272.67 314.6 272.95 314.6 273.22 314.6 273.5 314.6 273.78 314.6 274.06 314.6 274.34 314.6 274.62 314.6 274.89 314.6 275.17 314.6 275.45 314.6 275.73 314.6 276.01 314.6 276.29 314.6 276.56 314.6 276.84 314.6 277.12 314.6 277.4 314.6 277.68 314.6 277.96 314.6 278.23 314.6 278.51 314.6 278.79 314.6 279.07 314.6 279.35 314.6 279.63 314.6 279.9 314.6 280.18 314.6 280.46 314.6 280.74 314.6 281.02 314.6 281.3 314.6 281.57 314.6 281.85 314.6 282.13 314.6 282.41 314.6 282.69 314.6 282.97 314.6 283.24 314.6 283.52 314.6 283.8 314.6 284.08 314.6 284.36 314.6 284.64 314.6 284.91 314.6 285.19 314.6 285.47 314.6 285.75 314.6 286.03 314.6 286.31 314.6 286.58 314.6 286.86 314.6 287.14 314.6 287.42 314.6 287.7 314.6 287.98 314.6 288.25 314.6 288.53 314.6 288.81 314.59 289.09 314.59 289.37 314.58 289.65 314.57 289.92 314.55 290.2 314.53 290.48 314.48 290.76 314.42 291.04 314.34 291.32 314.22 291.59 314.06 291.87 313.85 292.15 313.6 292.43 313.3 292.71 312.94 292.99 312.55 293.27 312.12 293.54 311.69 293.82 311.27 294.1 310.9 294.38 310.58 294.66 310.36 294.94 310.23 295.21 310.23 295.49 310.33 295.77 310.55 296.05 310.85 296.33 311.22 296.61 311.63 296.88 312.07 297.16 312.49 297.44 312.89 297.72 313.25 298 313.56 298.28 313.82 298.55 314.03 298.83 314.2 299.11 314.32 299.39 314.41 299.67 314.48 299.95 314.52 300.22 314.55L300.22 314.6Z" fill="#2468aa" fill-opacity=".25" stroke="#36709f" stroke-width="0.75" stroke-linejoin="round"/><path transform="scale(.25)" d="M1575 1241 1569 885 1481 885 1562 885" fill="none" marker-start="url(#mo)" marker-mid="url(#mo)" marker-end="url(#mo)"/><path transform="scale(.25)" d="M1465 885 1500 885 1579 1241 1486 885 1509 885 1517 885 1512 885 1383 885 1538 885 1493 885 1503 885 1522 885 1504 885 1565 885 1556 885 1520 885 1511 885 1556 885 1549 885 1473 885 1522 885 1555 885 1434 885 1554 885 1530 885 1536 885 1425 885 1476 1241 1479 1241 1488 885 1552 885 1430 885 1585 1241 1438 885 1402 885 1393 885 1451 885 1544 885 1582 1241 1422 885 1412 885 1580 1241 1388 885 1460 885 1528 885 1537 1241 1473 885 1530 1241 1569 1241 1445 885 1479 1241 1416 885 1420 885 1543 1241 1404 885 1500 1241 1557 1241 1505 1241 1456 885 1384 885 1397 885 1566 1241 1495 1241 1526 1241 1551 1241 1455 885 1440 885 1383 1241 1409 885 1483 1241 1472 1241 1535 1241 1409 885 1450 1241 1383 1241 1441 1241 1459 1241 1546 1241 1444 1241 1490 1241 1564 1241 1468 1241 1448 885 1445 1241 1510 1241 1528 1241 1455 1241 1391 885 1465 1241 1438 1241 1544 1241 1387 1241 1464 1241 1393 1241 1428 1241 1415 1241 1399 1241 1423 1241 1514 1241 1393 1241 1409 1241 1406 1241 1417 1241 1433 1241 1559 1241 1486 1241 1543 1241 1520 1241 1423 1241 1405 1241" fill="none" marker-start="url(#mb)" marker-mid="url(#mb)" marker-end="url(#mb)"/><path transform="scale(.25)" d="M1928 1241 1885 885 1857 885 1851 885 1765 885 1943 1241 1912 1241 1895 1241 1740 1241 1888 1241 1885 1241 2029 1241 1754 885 1838 885 1843 885 1898 1241 1843 885 1916 1241 1807 885 1877 1241 1963 1241 1801 885 1807 885 1751 1241 1799 885 1891 1241 1758 885 1834 885 1829 885 1824 885 1743 1241 1873 1241 1813 885 1769 885 1808 885 1746 1241 1824 885 1753 1241 1866 1241 1860 1241 1784 885 1821 885 1867 1241 1851 1241 1874 1241 1786 885 1836 885 1774 885 1859 1241 1855 1241 1789 885 1754 1241 1815 885 1798 885 1848 1241 1906 1241 2010 1241 1792 885 1754 1241 1780 885 1828 1241 1755 1241 1902 1241 1858 1241 1867 1241 1823 1241 1761 885 1821 1241 1881 1241 1773 1241 1761 1241 1858 1241 1775 885 1845 1241 1801 1241 1761 1241 1767 885 1820 1241 1774 1241 1767 1241 1807 1241 1831 1241 1801 1241 1831 1241 1800 1241 1756 1241 1785 1241 1782 1241 1810 1241 1884 1241 1780 1241 1817 1241 1791 1241 1920 1241 1794 1241 1812 1241 1776 1241 1840 1241 1833 1241 1839 1241 1777 1241" fill="none" marker-start="url(#mb)" marker-mid="url(#mb)" marker-end="url(#mb)"/><path transform="scale(.25)" d="M392 1345 386 1520 386 1490 425 1435 428 1400 419 1465 428 1662 377 1479 359 1341 416 1434 425 1590 332 1364 410 1435 398 1471 428 1569 380 1556 410 1530 428 1553 413 1352 386 1566 359 1375 428 1633 425 1471 398 1431 428 1405 398 1359 317 1384 422 1450 422 1442 428 1366 395 1557 428 1617 377 1487 422 1542 404 1456 395 1447 305 1510 347 1463 413 1500 428 1651 416 1505 350 1483 374 1487 428 1647 425 1561 392 1435 425 1595 416 1483 428 1630 314 1471 410 1376 428 1541 428 1443 425 1446 413 1482 413 1358" fill="none" marker-start="url(#mo)" marker-mid="url(#mo)" marker-end="url(#mo)"/><path transform="scale(.25)" d="M203 1526 263 1437 428 1676 221 1451 308 1557 386 1675 416 1326 425 1630 197 1564 242 1422 389 1547 416 1357 197 1436 203 1567 233 1424 203 1675 275 1453 335 1478 257 1439 401 1673 251 1507 380 1530 281 1472 416 1676 383 1356 314 1393 278 1489 206 1514 410 1431 254 1413 206 1573 401 1499 230 1533 374 1329 404 1468 380 1376 425 1399 422 1335 356 1358 410 1521 269 1676 296 1481 317 1480 183 1568 416 1381 425 1582 233 1464 428 1665 284 1540 401 1413 383 1368 416 1506 183 1545 419 1525 386 1427 269 1539 395 1483 404 1525 183 1610 183 1644 338 1432 275 1527 392 1521 413 1427 410 1446 368 1355 293 1421 377 1490 200 1492 386 1508 329 1676 221 1527 311 1676 293 1676 410 1328 344 1357 377 1545 374 1675 377 1354 260 1512 183 1526 254 1443 428 1642 428 1394 184 1587 254 1486 419 1428 275 1395 368 1364 203 1500 290 1419 206 1436 188 1487 341 1489 278 1556 380 1387 428 1612 299 1512 263 1425 260 1474 308 1467 183 1641 293 1485 212 1519 317 1458 275 1494 183 1646 287 1425 245 1482 371 1388 263 1676 299 1523 365 1454 362 1544 398 1488 215 1498 296 1383 272 1515 410 1465 183 1597 224 1523 320 1526 287 1676 365 1413 260 1528 206 1670 332 1378 320 1405 186 1581 200 1540 401 1671 326 1675 422 1554 320 1480 314 1469 428 1530 269 1450 398 1513 332 1475 332 1429 362 1438 320 1533 183 1667 329 1535 269 1675 428 1609 269 1510 275 1439 209 1566 299 1570 371 1543 221 1508 206 1507 197 1498 371 1543 332 1505 200 1541 392 1377 245 1519 386 1527 290 1464 338 1425 425 1430 236 1469 302 1480 386 1391 323 1676 359 1410 183 1630 185 1527 368 1377 350 1403 194 1479 365 1431 347 1401 299 1531 272 1506 293 1435 425 1580 296 1572 365 1331 365 1531 338 1373 356 1450 200 1670 308 1442 428 1675 206 1668 187 1502 350 1529 356 1363 410 1503 398 1456 404 1538 299 1432 266 1492 248 1524 290 1399 401 1513 209 1515 293 1508 263 1434 398 1427 254 1503 186 1521 401 1512 287 1541 425 1614 425 1415 209 1572 410 1484 413 1468 242 1676 314 1486 203 1487 341 1441 425 1648 293 1416 257 1489 284 1529 254 1529 410 1480 296 1522 206 1546 359 1404 365 1517 311 1542 239 1565 413 1481 185 1597 296 1676 368 1675 296 1441 187 1588 386 1666 410 1511 314 1438 260 1504 344 1429 272 1407 218 1469 233 1532 395 1675 377 1562 212 1675 311 1382 248 1526 425 1652 296 1550 428 1608 347 1476 404 1518 269 1545 314 1515 281 1395 359 1445 362 1675 278 1522 395 1444 344 1410 392 1411 308 1542 320 1432 293 1542 356 1525 332 1493 410 1555 377 1453 317 1410 356 1430 184 1488 410 1569 266 1541 341 1530 188 1663 302 1506 296 1415 398 1546 269 1526 281 1521 183 1624 326 1542 305 1538 299 1491 221 1592 425 1629 365 1511 209 1593 200 1548 183 1624 314 1676 186 1537 215 1422 311 1469 425 1443 395 1495 344 1402 329 1433 209 1502 305 1420 305 1393 332 1398 185 1672 187 1591 383 1593 326 1546 395 1358 344 1427 212 1542 383 1494 395 1374 323 1472 416 1564 401 1669 389 1443 341 1453 404 1428 308 1374 299 1527 218 1532 308 1428 428 1624 413 1547 371 1455 350 1540 425 1530 329 1466 212 1663 341 1449 194 1441 236 1493 185 1676 353 1361 245 1556 353 1485 197 1662 368 1423 371 1406 323 1510 302 1486 206 1664 266 1573 383 1437 425 1382 287 1509 191 1564 215 1528 335 1388 413 1365 383 1394 320 1676 371 1360 215 1673 290 1531 389 1456 185 1543 428 1470 260 1517 188 1507 311 1554 398 1410 383 1471 233 1516 209 1501 183 1660 410 1563 365 1494 245 1528 416 1446 395 1534 323 1497 263 1564 281 1676 344 1519 341 1493 401 1408 302 1449 191 1676 425 1363 371 1518 353 1452 407 1442 302 1676 188 1660 386 1661 184 1549 302 1408 422 1408 242 1670 332 1406 359 1506 341 1372 251 1497 184 1578 272 1576 422 1611 215 1655 296 1410 377 1396 239 1569 347 1390 308 1403 185 1489 332 1674 365 1406 410 1543 413 1411 236 1494 332 1446 296 1473 428 1565 362 1390 308 1567 281 1408 332 1513 350 1508 293 1676 383 1412 368 1356 359 1676 266 1544 233 1548 188 1528 419 1552 335 1499 293 1359 233 1540 233 1665 425 1601 260 1577 404 1375 183 1642 299 1525 425 1542 338 1474 395 1418 359 1466 356 1378 422 1411 359 1380 302 1492 212 1494 183 1547 296 1383 392 1391 341 1500 320 1405 356 1523 293 1552 422 1391 320 1425 302 1473 422 1612 353 1379 245 1491 407 1389 362 1392 248 1664 302 1476 299 1477 284 1675 311 1354 359 1464 242 1505 290 1543 395 1426 284 1460 383 1421 184 1648 395 1530 395 1388 257 1572 359 1430 365 1465 272 1676 392 1586 266 1481 362 1446 347 1676 410 1414 317 1397 245 1551 251 1560 206 1596 263 1561 308 1556 419 1456 311 1417 419 1598 371 1484 350 1444 314 1555 184 1659 383 1549 326 1455 284 1443 356 1417 212 1607 314 1469 209 1568 299 1436 197 1574 413 1674 422 1425 254 1543 341 1586 245 1483 407 1632 236 1596 386 1650 186 1600 266 1672 362 1429 425 1628 197 1578 350 1520 183 1524 407 1435 371 1393 422 1605 350 1434 380 1644 383 1525 275 1555 215 1545 419 1367 413 1631 356 1563 389 1467 392 1449 425 1376 257 1555 305 1576 341 1595 221 1550 314 1398 242 1484 353 1503 317 1565 374 1462 422 1516 377 1375 368 1501 419 1671 425 1587 227 1478 194 1554 227 1659 320 1468 356 1519 380 1472 320 1498 284 1586 293 1392 248 1661 401 1627 287 1490 383 1405 338 1409 221 1599 353 1590 344 1393 407 1627 368 1567 383 1663 203 1582 296 1505 317 1416 398 1597 380 1588 380 1675 221 1655 368 1674 392 1676 395 1554 245 1455 305 1487 302 1394 326 1522 416 1633 254 1673 183 1644 317 1447 422 1510 227 1586 187 1592 200 1602 305 1445 356 1385 311 1592 245 1586 407 1615 338 1420 428 1424 239 1578 323 1546 350 1674 308 1458 338 1379 308 1460 386 1541 275 1571 356 1486 311 1520 284 1433 350 1427 185 1553 380 1635 377 1502 314 1599 287 1495 332 1560 326 1526 221 1522 410 1420 290 1625 359 1568 365 1409 389 1581 356 1554 380 1370 413 1589 407 1600 233 1499 332 1551 419 1474 419 1390 320 1445 206 1630 290 1487 233 1613 365 1496 377 1673 371 1595 197 1590 251 1573 284 1615 419 1579 290 1428 200 1626 392 1506 296 1589 395 1466 347 1555 224 1664 365 1477 302 1412 218 1673 183 1632 218 1603 383 1601 299 1445 392 1380 194 1619 326 1414 344 1554 260 1674 347 1377 338 1593 374 1587 281 1514 383 1509 338 1545 419 1467 209 1558 407 1492 323 1427 344 1506 374 1381 293 1457 371 1669 329 1647 254 1563 200 1584 422 1594 317 1560 383 1395 425 1641 374 1433 428 1502 311 1461 377 1525 416 1585 311 1602 410 1395 281 1573 191 1566 326 1641 350 1579 215 1524 359 1557 413 1400 275 1548 260 1655 254 1578 263 1524 386 1461 287 1545 186 1628 329 1636 299 1675 293 1522 377 1646 326 1555 380 1633 183 1613 278 1654 398 1614 296 1446 365 1644 404 1588 389 1501 365 1324 422 1676 263 1675 401 1397 248 1434 278 1661 338 1583 236 1542 308 1670 302 1664 326 1566 347 1576 239 1584 242 1592 236 1657 395 1609 230 1656 230 1676 368 1597 404 1491 389 1601 293 1629 374 1602 401 1612 227 1584 425 1575 290 1539 254 1531 314 1500 275 1569 281 1444 305 1496 389 1619 419 1443 299 1667 299 1576 356 1676 374 1448 392 1644 413 1385 356 1418 242 1539 314 1609 416 1639 410 1454 428 1658 386 1658 183 1558 224 1565 296 1596 356 1463 260 1559 215 1585 359 1658 398 1386 347 1634 194 1508 413 1558 371 1632 188 1629 326 1425 365 1627 224 1661 212 1545 344 1563 263 1493 344 1482 347 1419 293 1567 419 1611 212 1611 293 1503 272 1432 290 1559 218 1543 230 1569 185 1602 341 1463 275 1662 278 1505 416 1586 338 1396 410 1611 347 1468 395 1647 227 1573 395 1662 356 1582 254 1622 380 1414 275 1481 263 1660 299 1459 233 1675 362 1330 275 1424 377 1603 422 1353 230 1607 197 1672 272 1437 353 1525 383 1396 290 1596 368 1576 317 1452 362 1447 350 1626 206 1667 269 1411 197 1581 383 1607 281 1590 362 1631 275 1675 183 1564 341 1332 215 1570 422 1675 377 1649 218 1653 197 1618 419 1668 428 1671 395 1399 311 1643 302 1663 353 1595 200 1665 281 1627 184 1637 386 1579 386 1576 299 1555 263 1665 380 1665 380 1623 284 1503 347 1627 341 1542 233 1623 257 1575 410 1491 221 1575 266 1548 362 1661 317 1595 206 1659 353 1542 206 1642 314 1632 419 1640 344 1359 374 1585 275 1495 260 1665 311 1585 419 1424 188 1583 248 1579 416 1569 317 1552 184 1647 278 1571 419 1419 290 1655 197 1641 347 1617 323 1574 347 1598 209 1616 227 1558 362 1674 215 1577 227 1625 377 1408 275 1523 416 1659 335 1570 380 1499 287 1601 347 1496 263 1552 392 1639 359 1630 263 1519 329 1622 308 1530 353 1429 305 1616 320 1646 317 1616 374 1471 407 1659 338 1670 263 1542 368 1378 350 1622 183 1575 317 1607 183 1667 308 1419 329 1661 419 1371 392 1583 212 1555 350 1676 275 1559 317 1628 398 1652 347 1660 183 1632 338 1596 320 1599 371 1351 197 1653 296 1603 184 1657 410 1397 326 1574 260 1652 239 1528 335 1585 425 1568 323 1439 419 1649 335 1448 311 1504 230 1579 335 1526 224 1598 386 1507 317 1603 383 1448 308 1577 335 1650 305 1661 278 1616 278 1647 263 1654 215 1627 323 1604 338 1649 350 1574 413 1586 317 1676 401 1633 296 1603 263 1600 212 1553 188 1636 236 1509 221 1646 422 1619 254 1591 269 1655 239 1643 338 1497 299 1412 188 1555 380 1619 416 1654 183 1616 266 1614 299 1644 200 1660 419 1475 398 1554 287 1566 183 1606 344 1522 251 1501 416 1648 341 1560 413 1607 326 1611 377 1606 371 1676 326 1648 374 1552 416 1390 212 1483 227 1607 326 1631 410 1582 191 1545 218 1632 284 1665 341 1479 401 1565 404 1588 368 1361 224 1672 356 1607 245 1398 362 1583 272 1611 293 1556 374 1615 377 1610 188 1579 317 1554 374 1548 404 1651 341 1639 197 1654 314 1664 236 1523 350 1661 383 1362 236 1611 284 1600 212 1630 227 1638 305 1553 257 1622 350 1645 359 1641 425 1393 332 1628 227 1582 413 1577 269 1650 323 1594 335 1471 374 1440 248 1652 269 1598 305 1490 242 1625 401 1379 191 1571 227 1602 263 1585 335 1552 407 1668 272 1584 206 1525 371 1659 314 1604 287 1674 266 1649 344 1633 380 1547 275 1596 305 1601 194 1629 338 1540 326 1581 341 1647 266 1435 428 1373 359 1611 209 1613 248 1632 284 1463 248 1636 239 1624 278 1606 365 1549 377 1575 224 1587 215 1629 383 1615 392 1482 320 1549 230 1654 233 1624 374 1426 389 1576 326 1667 425 1654 395 1630 341 1659 320 1653 281 1606 284 1581 251 1675 254 1630 209 1651 281 1629 395 1567 212 1584 212 1568 419 1570 374 1629 242 1615 236 1630 359 1645 269 1498 215 1558 371 1674 380 1569 383 1614 329 1431 365 1652 239 1649 347 1646 200 1613 308 1676 416 1360 359 1612 290 1608 359 1663 254 1633 296 1634 191 1643 272 1636 395 1586 311 1647 377 1648 305 1657 296 1646 266 1615 242 1631 320 1567 269 1647 368 1557 293 1579 257 1643 287 1634 311 1626 194 1628 395 1579 359 1358 242 1579 236 1529 236 1676 293 1661 221 1676 356 1646 395 1589 191 1612 185 1644 287 1614 362 1482 251 1649 221 1581 218 1627 254 1615 368 1427 293 1673 341 1581 332 1384 266 1561 239 1676 239 1675 296 1626 260 1616 377 1625 323 1641 317 1490 410 1612 290 1611 341 1550 305 1603 347 1573 311 1577 245 1599 362 1622 242 1608 401 1364 215 1615 401 1634 209 1639 197 1628 239 1541 248 1601 341 1650 200 1604 386 1567 290 1652 184 1490 377 1526 221 1618 224 1643 248 1676 404 1577 311 1631 275 1615 362 1600 224 1652 407 1545 221 1612 320 1585 386 1630 422 1632 362 1595 368 1646 212 1651 392 1502 326 1657 281 1600 377 1636 422 1618 290 1635 368 1581 257 1627 335 1615 305 1617 302 1589 263 1539 302 1527 212 1636 353 1623 209 1608 197 1521 401 1643 335 1597 377 1412 203 1614 356 1665 326 1596 335 1633 224 1658 353 1396 416 1623 344 1620 272 1643 248 1652 290 1608 317 1453 413 1644 416 1631 335 1613 230 1559 422 1596 293 1656 299 1615 287 1497 197 1676 338 1676 377 1619 308 1655 407 1650 284 1611 254 1638 188 1659 365 1574 296 1642 254 1636 221 1544 398 1393 380 1570 401 1665 320 1489 410 1361 323 1528 302 1618 263 1626 329 1664 344 1637 251 1600 332 1608 245 1648 332 1631 230 1641 233 1603 398 1563 359 1568 419 1613 260 1635 347 1655 275 1629 227 1598 329 1455 335 1424 278 1644 311 1633 194 1603 266 1596 416 1552 326 1663 359 1534 293 1646 380 1663 269 1581 200 1630 365 1396 230 1647 353 1669 335 1626 233 1535 269 1633 266 1632 197 1659 239 1650 308 1627 368 1597 266 1621 257 1609 284 1649 248 1606 296 1448 374 1659 290 1631 371 1611 260 1635 260 1617 275 1589 353 1369 359 1497 425 1397 377 1438 344 1607 308 1638" fill="none" marker-start="url(#mb)" marker-mid="url(#mb)" marker-end="url(#mb)"/><path transform="scale(.25)" d="M786 1345 786 1341 786 1403 786 1409 786 1463" fill="none" marker-start="url(#mo)" marker-mid="url(#mo)" marker-end="url(#mo)"/><path transform="scale(.25)" d="M786 1356 614 1335 786 1483 614 1328 786 1454 786 1538 786 1533 786 1401 614 1331 786 1512 786 1558 786 1481 786 1459 786 1444 786 1432 786 1530 786 1562 786 1669 786 1540 786 1423 786 1510 786 1666 786 1365 786 1456 786 1517 786 1471 786 1497 614 1403 786 1565 786 1359 786 1466 614 1388 786 1555 786 1589 786 1449 786 1503 786 1519 614 1392 614 1405 786 1588 786 1487 786 1427 786 1409 786 1370 786 1445 786 1595 786 1612 786 1506 614 1377 786 1617 614 1514 786 1509 786 1621 786 1492 786 1652 786 1525 786 1400 614 1324 786 1609 614 1443 786 1448 614 1385 786 1418 786 1386 786 1622 614 1468 614 1414 614 1459 786 1330 786 1579 614 1353 786 1576 614 1447 614 1411 614 1332 614 1399 786 1605 614 1491 786 1542 614 1359 786 1495 786 1665 614 1419 614 1408 786 1496 614 1519 614 1471 614 1378 786 1622 614 1419 614 1371 614 1351 786 1605 614 1507 614 1509 614 1475 786 1676 786 1390 614 1483 614 1479 786 1588 614 1398 786 1639 786 1600 786 1553 614 1471 614 1440 786 1379 786 1584 614 1674 786 1547 614 1435 786 1373 614 1463 614 1482 786 1549 786 1426 786 1653 786 1570 786 1674 614 1431 614 1360 614 1557 786 1358 786 1646 614 1482 614 1427 786 1673 614 1384 614 1675 786 1641 786 1599 614 1364 786 1567 614 1490 614 1526 614 1676 614 1545 614 1585 614 1595 614 1502 614 1581 614 1589 614 1539 786 1527 614 1521 786 1597 786 1412 786 1633 614 1453 614 1559 614 1676 614 1574 614 1544 614 1393 614 1570 786 1665 614 1489 614 1361 614 1528 614 1563 614 1568 614 1613 786 1635 614 1655 614 1455 614 1424 614 1644 614 1603 614 1596 614 1552 614 1663 614 1534 614 1646 786 1663 614 1581 786 1396 614 1647 614 1669 614 1626 614 1535 614 1659 614 1650 786 1627 614 1597 614 1621 614 1649 614 1606 614 1448 786 1659 614 1631 614 1611 614 1635 614 1617 614 1589 614 1369 614 1497 614 1397 786 1438 614 1607 614 1638" fill="none" marker-start="url(#mb)" marker-mid="url(#mb)" marker-end="url(#mb)"/><path transform="scale(.25)" d="M1005 1345 1005 1341 1185 1406 1185 1352 1185 1450 1185 1506 1185 1365" fill="none" marker-start="url(#mo)" marker-mid="url(#mo)" marker-end="url(#mo)"/><path transform="scale(.25)" d="M1185 1533 1185 1472 1185 1426 1005 1335 1185 1497 1185 1490 1185 1457 1185 1544 1185 1442 1185 1451 1185 1425 1185 1675 1185 1406 1185 1484 1185 1468 1185 1433 1185 1465 1185 1358 1185 1374 1185 1584 1185 1394 1185 1437 1185 1572 1185 1589 1185 1452 1185 1675 1185 1375 1185 1599 1185 1602 1185 1656 1185 1389 1185 1388 1185 1414 1185 1520 1185 1435 1185 1376 1185 1587 1005 1519 1005 1405 1185 1554 1185 1379 1185 1420 1185 1409 1185 1602 1005 1514 1005 1509 1185 1492 1185 1381 1185 1594 1185 1635 1005 1400 1005 1324 1185 1580 1185 1646 1005 1443 1185 1644 1185 1658 1185 1558 1185 1625 1185 1396 1005 1468 1005 1414 1005 1459 1005 1330 1005 1447 1185 1607 1185 1614 1185 1626 1005 1332 1185 1668 1005 1399 1185 1542 1185 1424 1005 1419 1005 1408 1005 1496 1185 1519 1005 1471 1005 1419 1005 1351 1185 1568 1005 1507 1005 1509 1185 1619 1185 1612 1005 1475 1005 1390 1005 1483 1005 1479 1005 1398 1185 1639 1005 1471 1005 1440 1005 1379 1005 1435 1005 1373 1005 1463 1005 1482 1185 1549 1185 1674 1005 1431 1185 1652 1005 1557 1005 1358 1005 1482 1005 1427 1005 1673 1005 1384 1005 1561 1005 1675 1185 1550 1185 1577 1005 1364 1005 1567 1005 1490 1005 1526 1005 1676 1005 1545 1005 1585 1185 1630 1005 1595 1005 1502 1005 1581 1005 1589 1005 1539 1005 1527 1005 1521 1005 1412 1005 1453 1185 1631 1005 1559 1005 1676 1005 1574 1005 1544 1005 1393 1005 1570 1005 1489 1005 1361 1005 1528 1185 1563 1005 1568 1005 1613 1005 1655 1005 1455 1005 1424 1005 1644 1005 1603 1005 1596 1005 1552 1185 1663 1005 1534 1005 1646 1005 1663 1005 1581 1005 1396 1005 1647 1005 1669 1005 1535 1005 1659 1005 1650 1005 1627 1005 1597 1005 1621 1005 1649 1005 1606 1005 1448 1005 1659 1005 1631 1005 1611 1005 1635 1005 1617 1005 1589 1005 1369 1005 1497 1005 1397 1005 1438 1005 1607 1005 1638" fill="none" marker-start="url(#mb)" marker-mid="url(#mb)" marker-end="url(#mb)"/><path d="M334.72 423.4L334.72 423.4 335.09 423.4 335.46 423.4 335.82 423.39 336.19 423.39 336.56 423.39 336.93 423.39 337.3 423.39 337.67 423.38 338.03 423.38 338.4 423.37 338.77 423.37 339.14 423.36 339.51 423.35 339.88 423.34 340.25 423.32 340.61 423.31 340.98 423.29 341.35 423.27 341.72 423.24 342.09 423.21 342.46 423.18 342.83 423.14 343.19 423.1 343.56 423.05 343.93 423 344.3 422.95 344.67 422.89 345.04 422.82 345.41 422.75 345.77 422.67 346.14 422.59 346.51 422.5 346.88 422.41 347.25 422.32 347.62 422.22 347.99 422.12 348.35 422.02 348.72 421.91 349.09 421.81 349.46 421.71 349.83 421.61 350.2 421.51 350.57 421.41 350.93 421.32 351.3 421.23 351.67 421.15 352.04 421.08 352.41 421.01 352.78 420.95 353.14 420.9 353.51 420.86 353.88 420.82 354.25 420.8 354.62 420.78 354.99 420.78 355.36 420.78 355.72 420.79 356.09 420.8 356.46 420.83 356.83 420.86 357.2 420.9 357.57 420.94 357.94 420.99 358.3 421.04 358.67 421.1 359.04 421.15 359.41 421.22 359.78 421.28 360.15 421.34 360.52 421.41 360.88 421.47 361.25 421.54 361.62 421.61 361.99 421.67 362.36 421.73 362.73 421.8 363.1 421.86 363.46 421.92 363.83 421.97 364.2 422.03 364.57 422.08 364.94 422.13 365.31 422.18 365.67 422.23 366.04 422.27 366.41 422.31 366.78 422.35 367.15 422.39 367.52 422.42 367.89 422.44 368.25 422.47 368.62 422.49 368.99 422.51 369.36 422.52 369.73 422.53 370.1 422.53 370.47 422.54 370.83 422.53 371.2 422.53 371.57 422.52 371.94 422.51 372.31 422.5 372.68 422.48 373.05 422.46 373.41 422.44 373.78 422.42 374.15 422.4 374.52 422.37 374.89 422.35 375.26 422.32 375.63 422.3 375.99 422.28 376.36 422.25 376.73 422.23 377.1 422.21 377.47 422.19 377.84 422.18 378.21 422.16 378.57 422.15 378.94 422.14 379.31 422.13 379.68 422.12 380.05 422.12 380.42 422.11 380.78 422.11 381.15 422.12 381.52 422.12 381.89 422.13 382.26 422.14 382.63 422.15 383 422.16 383.36 422.17 383.73 422.19 384.1 422.21 384.47 422.23 384.84 422.25 385.21 422.27 385.58 422.29 385.94 422.32 386.31 422.34 386.68 422.37 387.05 422.4 387.42 422.43 387.79 422.46 388.16 422.49 388.52 422.52 388.89 422.55 389.26 422.58 389.63 422.61 390 422.64 390.37 422.68 390.74 422.71 391.1 422.74 391.47 422.77 391.84 422.81 392.21 422.84 392.58 422.87 392.95 422.9 393.32 422.93 393.68 422.96 394.05 422.99 394.42 423.02 394.79 423.05 395.16 423.08 395.53 423.11 395.89 423.13 396.26 423.16 396.63 423.18 397 423.2 397.37 423.22 397.74 423.24 398.11 423.26 398.47 423.27 398.84 423.29 399.21 423.3 399.58 423.31 399.95 423.33 400.32 423.34 400.69 423.35 401.05 423.35 401.42 423.36 401.79 423.37 402.16 423.37 402.53 423.38 402.9 423.38 403.27 423.38 403.63 423.39 404 423.39 404.37 423.39 404.74 423.39 405.11 423.39 405.48 423.4 405.85 423.4 406.21 423.4 406.58 423.4 406.95 423.4 407.32 423.4 407.69 423.4 408.06 423.4L408.06 423.4Z" fill="#ff7f0e" fill-opacity=".25" stroke="#e0a060" stroke-width="0.75" stroke-linejoin="round"/><path d="M341.27 423.4L341.27 423.33 341.58 423.27 341.89 423.19 342.2 423.07 342.51 422.88 342.82 422.61 343.13 422.23 343.44 421.71 343.75 421.02 344.06 420.11 344.37 418.95 344.68 417.52 344.98 415.8 345.29 413.76 345.6 411.4 345.91 408.73 346.22 405.76 346.53 402.52 346.84 399.02 347.15 395.3 347.46 391.37 347.77 387.26 348.08 383 348.39 378.62 348.7 374.14 349 369.59 349.31 365.03 349.62 360.52 349.93 356.1 350.24 351.85 350.55 347.84 350.86 344.13 351.17 340.76 351.48 337.8 351.79 335.26 352.1 333.17 352.41 331.53 352.72 330.34 353.02 329.57 353.33 329.21 353.64 329.22 353.95 329.56 354.26 330.21 354.57 331.16 354.88 332.38 355.19 333.88 355.5 335.68 355.81 337.77 356.12 340.17 356.43 342.88 356.74 345.85 357.04 349.06 357.35 352.42 357.66 355.85 357.97 359.27 358.28 362.58 358.59 365.71 358.9 368.61 359.21 371.27 359.52 373.7 359.83 375.92 360.14 377.99 360.45 379.97 360.76 381.91 361.06 383.85 361.37 385.82 361.68 387.83 361.99 389.86 362.3 391.88 362.61 393.87 362.92 395.79 363.23 397.62 363.54 399.32 363.85 400.89 364.16 402.32 364.47 403.63 364.78 404.82 365.08 405.9 365.39 406.89 365.7 407.79 366.01 408.61 366.32 409.36 366.63 410.04 366.94 410.64 367.25 411.17 367.56 411.63 367.87 412.02 368.18 412.35 368.49 412.63 368.79 412.86 369.1 413.04 369.41 413.18 369.72 413.28 370.03 413.35 370.34 413.38 370.65 413.4 370.96 413.4 371.27 413.4 371.58 413.42 371.89 413.46 372.2 413.54 372.51 413.67 372.81 413.84 373.12 414.05 373.43 414.3 373.74 414.57 374.05 414.86 374.36 415.15 374.67 415.43 374.98 415.69 375.29 415.91 375.6 416.11 375.91 416.26 376.22 416.37 376.53 416.44 376.83 416.47 377.14 416.46 377.45 416.42 377.76 416.34 378.07 416.24 378.38 416.11 378.69 415.96 379 415.79 379.31 415.61 379.62 415.42 379.93 415.22 380.24 415.01 380.55 414.81 380.85 414.6 381.16 414.41 381.47 414.23 381.78 414.06 382.09 413.92 382.4 413.81 382.71 413.73 383.02 413.69 383.33 413.68 383.64 413.71 383.95 413.76 384.26 413.84 384.57 413.94 384.87 414.05 385.18 414.18 385.49 414.31 385.8 414.46 386.11 414.63 386.42 414.82 386.73 415.04 387.04 415.29 387.35 415.57 387.66 415.88 387.97 416.23 388.28 416.59 388.59 416.97 388.89 417.36 389.2 417.75 389.51 418.13 389.82 418.49 390.13 418.84 390.44 419.16 390.75 419.46 391.06 419.74 391.37 420.01 391.68 420.27 391.99 420.51 392.3 420.76 392.61 421 392.91 421.23 393.22 421.46 393.53 421.67 393.84 421.87 394.15 422.06 394.46 422.22 394.77 422.35 395.08 422.47 395.39 422.56 395.7 422.64 396.01 422.7 396.32 422.76 396.63 422.81 396.93 422.86 397.24 422.91 397.55 422.96 397.86 423.02 398.17 423.07 398.48 423.12 398.79 423.17 399.1 423.21 399.41 423.25 399.72 423.29 400.03 423.32 400.34 423.34 400.65 423.36 400.95 423.37 401.26 423.38 401.57 423.39 401.88 423.39 402.19 423.39 402.5 423.4 402.81 423.4L402.81 423.4Z" fill="#2468aa" fill-opacity=".25" stroke="#36709f" stroke-width="0.75" stroke-linejoin="round"/><path transform="scale(.25)" d="M1771 1400 1811 1341 1780 1466 1838 1352 1788 1366 1779 1409 1812 1376 1838 1455" fill="none" marker-start="url(#mo)" marker-mid="url(#mo)" marker-end="url(#mo)"/><path transform="scale(.25)" d="M1815 1326 1748 1564 1803 1676 1850 1407 1784 1357 1757 1436 1759 1675 1875 1478 1748 1631 1837 1507 1749 1593 1871 1393 1862 1586 1878 1644 1846 1329 1849 1468 1846 1449 1862 1335 1854 1676 1784 1462 1856 1570 1781 1423 1825 1464 1852 1403 1901 1424 1865 1368 1869 1452 1842 1559 1883 1634 1856 1470 1749 1653 1746 1584 1844 1557 1847 1440 1888 1629 1879 1400 1852 1438 1861 1565 1844 1362 1756 1653 1782 1328 1802 1357 1873 1490 1900 1426 1811 1354 1882 1601 1864 1630 1865 1402 1851 1526 1775 1486 1869 1364 1744 1610 1854 1443 1867 1419 1870 1603 1843 1387 1749 1636 1871 1425 1777 1474 1883 1666 1844 1485 1773 1430 1751 1666 1877 1613 1876 1411 1830 1482 1751 1613 1760 1660 1821 1365 1854 1639 1831 1454 1830 1385 1903 1494 1755 1498 1758 1569 1838 1395 1859 1647 1897 1597 1931 1648 1747 1522 1824 1676 1839 1528 1899 1378 1889 1596 1890 1603 1832 1536 1760 1574 1868 1663 1747 1650 1893 1438 1857 1462 1870 1626 1851 1543 1887 1431 1747 1667 1863 1594 1870 1377 1748 1630 1877 1629 1792 1464 1874 1597 1845 1469 1756 1664 1762 1480 1841 1551 1891 1391 1798 1377 1828 1541 1884 1656 1810 1366 1808 1331 1881 1423 1840 1373 1898 1450 1759 1502 1890 1607 1892 1363 1831 1381 1849 1399 1758 1513 1798 1515 1836 1551 1751 1676 1756 1561 1855 1452 1772 1676 1818 1484 1826 1468 1757 1591 1844 1422 1893 1655 1833 1486 1840 1447 1785 1416 1770 1529 1837 1480 1845 1466 1757 1559 1832 1676 1819 1441 1861 1662 1760 1675 1775 1526 1824 1476 1765 1515 1769 1395 1816 1445 1836 1444 1745 1619 1873 1410 1880 1411 1832 1542 1833 1453 1848 1430 1771 1488 1755 1604 1832 1470 1873 1569 1818 1530 1876 1656 1813 1538 1778 1491 1744 1624 1785 1676 1870 1599 1765 1537 1844 1411 1879 1443 1817 1402 1804 1433 1862 1645 1862 1629 1884 1629 1856 1386 1760 1502 1946 1420 1865 1398 1750 1672 1780 1358 1810 1676 1823 1494 1915 1416 1829 1374 1839 1428 1833 1675 1809 1374 1823 1527 1846 1547 1834 1420 1822 1676 1874 1540 1783 1530 1821 1466 1898 1450 1836 1449 1876 1643 1805 1361 1743 1545 1778 1406 1757 1664 1813 1437 1806 1382 1854 1509 1840 1544 1850 1388 1842 1570 1853 1365 1787 1413 1780 1394 1857 1676 1795 1360 1772 1531 1851 1638 1789 1456 1796 1470 1802 1517 1756 1507 1764 1501 1842 1494 1826 1528 1809 1534 1788 1395 1847 1519 1810 1408 1826 1449 1802 1363 1820 1518 1832 1452 1861 1442 1802 1676 1857 1553 1781 1408 1859 1601 1856 1587 1841 1406 1804 1372 1857 1645 1846 1676 1840 1396 1814 1390 1757 1489 1765 1674 1785 1543 1769 1494 1891 1647 1863 1586 1856 1652 1807 1390 1888 1508 1817 1412 1808 1356 1825 1676 1756 1528 1792 1421 1752 1616 1813 1359 1771 1540 2032 1665 1842 1676 1782 1375 1758 1566 1825 1528 1826 1525 1886 1595 1764 1542 1828 1418 1864 1378 1834 1411 1907 1492 1828 1391 1848 1577 1801 1523 1838 1668 1817 1473 1872 1616 1791 1379 1754 1551 1873 1640 1847 1389 1882 1649 1753 1650 1782 1470 1834 1354 1843 1505 1884 1603 1820 1460 1787 1530 1785 1388 1810 1675 1827 1430 1868 1646 1819 1465 1767 1676 1764 1564 1823 1397 1754 1595 1748 1580 1795 1484 1811 1444 1854 1455 1855 1553 1765 1443 1840 1574 1856 1417 1819 1469 1902 1493 1821 1425 1768 1543 1767 1562 1756 1614 1880 1483 1848 1429 1749 1524 1774 1435 1821 1393 1838 1367 1802 1467 1773 1449 1765 1662 1781 1376 1879 1624 1834 1398 1760 1484 1771 1503 1805 1516 1773 1375 1879 1636 1790 1478 1816 1468 1810 1519 1800 1472 1792 1676 1811 1392 1790 1490 1882 1576 1797 1405 1822 1409 1831 1393 1805 1674 1820 1455 1752 1611 1807 1487 1833 1394 1825 1522 1919 1673 1778 1447 1826 1510 1748 1592 1799 1445 1857 1613 1777 1385 1817 1424 1805 1379 1776 1520 1816 1433 1820 1502 1838 1560 1798 1526 1781 1522 1823 1420 1805 1409 1827 1370 1772 1499 1803 1474 1815 1445 1818 1487 1813 1496 1761 1590 1780 1428 1792 1506 1793 1503 1802 1676 1833 1477 1792 1412 1762 1586 1881 1445 1799 1380 1799 1414 1834 1582 1821 1377 1763 1593 1877 1617 1845 1612 1780 1514 1819 1509 1853 1598 1804 1467 1802 1492 1800 1427 1805 1506 1821 1381 1866 1643 1798 1457 1966 1652 1832 1433 1863 1665 1843 1573 1763 1566 1760 1524 1791 1400 1812 1524 1815 1461 1875 1637 1799 1557 1748 1628 1843 1675 1813 1522 1855 1630 1842 1588 1759 1613 1797 1446 1807 1501 1817 1324 1813 1676 1791 1434 1807 1568 1894 1576 1839 1663 1798 1676 1831 1597 1828 1491 1857 1577 1847 1598 1808 1539 1803 1500 1784 1444 1773 1496 1829 1443 1829 1576 1835 1448 1853 1599 1782 1385 1798 1418 1796 1539 1846 1641 1781 1454 1838 1658 1815 1463 1797 1559 1802 1675 1803 1386 1789 1508 1748 1629 1782 1425 1852 1631 1759 1545 1813 1563 1818 1482 1797 1419 1781 1503 1785 1432 1780 1584 1805 1463 1823 1505 1850 1586 1828 1396 1812 1468 1817 1414 1805 1481 1853 1622 1811 1459 1827 1675 1812 1330 1807 1424 1769 1573 1795 1353 1747 1644 1815 1525 1876 1396 1810 1452 1858 1447 1862 1626 1804 1411 1820 1332 1823 1671 1803 1399 1823 1602 1867 1605 1757 1665 1750 1637 1817 1579 1821 1665 1835 1503 1772 1542 1818 1575 1855 1491 1827 1542 1757 1642 1832 1640 1818 1359 1795 1495 1847 1665 1796 1424 1775 1583 1800 1569 1800 1552 1756 1647 1798 1419 1826 1655 1759 1641 1849 1598 1771 1558 1841 1674 1758 1577 1825 1408 1869 1523 1840 1659 1863 1570 1843 1499 1807 1552 1788 1519 1834 1585 1761 1622 1850 1530 1759 1616 1808 1429 1771 1471 1777 1542 1819 1378 1814 1419 1826 1583 1791 1555 1796 1676 1811 1559 1796 1351 1871 1397 1808 1574 1803 1528 1825 1585 1797 1439 1870 1448 1818 1504 1837 1526 1811 1507 1854 1603 1797 1448 1835 1601 1827 1662 1848 1647 1878 1632 1771 1509 1810 1655 1794 1497 1809 1412 1767 1555 1770 1654 1761 1616 1763 1660 1793 1475 1815 1566 1828 1522 1791 1501 1773 1648 1780 1560 1841 1676 1840 1648 1793 1552 1792 1390 1757 1483 1762 1582 1768 1545 1808 1665 1837 1479 1786 1565 1800 1588 1824 1361 1796 1672 1812 1398 1820 1556 1823 1554 1782 1548 1761 1633 1801 1664 1777 1646 1789 1523 1768 1661 1862 1613 1858 1362 1827 1611 1836 1553 1797 1393 1766 1582 1813 1440 1813 1652 1798 1598 1886 1490 1819 1379 1774 1571 1794 1552 1804 1668 1780 1525 1808 1674 1826 1575 1849 1633 1795 1547 1800 1601 1757 1629 1805 1540 1831 1435 1805 1373 1784 1648 1806 1463 1762 1625 1851 1549 1762 1575 1770 1587 1811 1630 1817 1482 1793 1549 1792 1426 1810 1576 1798 1654 1845 1630 1842 1659 1832 1653 1775 1606 1795 1581 1767 1675 1757 1651 1782 1567 1790 1584 1778 1568 1790 1570 1804 1629 1763 1645 1804 1498 1769 1558 1818 1674 1814 1431 1802 1652 1774 1646 1770 1613 1786 1676 1790 1360 1805 1612 1778 1608 1851 1663 1790 1625 1773 1643 1804 1586 1771 1615 1833 1567 1793 1557 1834 1634 1792 1579 1807 1358 1826 1579 1788 1529 1783 1676 1764 1661 1780 1676 1767 1646 1824 1589 1769 1644 1783 1482 1801 1581 1795 1627 1791 1615 1909 1427 2014 1673 1784 1581 1774 1384 1794 1561 1818 1676 1777 1675 1860 1626 1785 1616 1781 1625 1783 1641 1835 1490 1841 1612 1819 1611 1771 1550 1795 1573 1796 1577 1825 1622 1822 1608 1834 1364 1816 1541 1779 1601 1803 1650 1758 1604 1816 1567 1789 1490 1794 1526 1816 1676 1805 1577 1810 1600 1784 1545 1783 1612 1787 1585 1783 1630 1784 1632 1769 1595 1815 1636 1833 1502 1818 1657 1775 1600 1777 1618 1818 1635 1807 1581 1831 1627 1787 1615 1783 1617 1821 1589 1837 1539 1824 1527 1764 1636 1802 1623 1759 1608 1759 1521 1808 1643 1905 1597 1808 1412 1769 1614 1862 1665 1804 1596 1794 1633 1793 1658 1835 1396 1844 1623 1871 1620 1813 1620 1825 1643 1796 1652 1814 1608 1826 1453 1800 1644 1764 1631 1805 1613 1824 1559 1789 1596 1844 1656 1840 1615 1846 1497 1774 1676 1885 1676 1800 1619 1813 1650 1776 1638 1788 1659 1808 1574 1821 1636 1765 1544 1819 1393 1819 1570 1784 1665 1779 1489 1789 1361 1792 1528 1861 1618 1763 1626 1789 1664 1789 1637 1839 1600 1838 1608 1785 1648 1790 1631 1797 1641 1783 1603 1778 1563 1790 1568 1760 1613 1839 1635 1848 1655 1778 1629 1814 1598 1811 1455 1812 1644 1805 1633 1764 1603 1782 1596 1821 1552 1771 1663 1798 1534 1824 1646 1792 1663 1778 1581 1771 1630 1811 1396 1795 1647 1817 1669 1834 1626 1799 1535 1804 1633 1834 1632 1782 1659 1803 1650 1759 1627 1819 1597 1836 1621 1789 1609 1785 1649 1814 1606 1887 1448 1783 1659 1820 1631 1794 1611 1923 1635 1797 1617 1816 1589 1779 1497 1844 1397 1836 1438 1842 1607 1781 1638" fill="none" marker-start="url(#mb)" marker-mid="url(#mb)" marker-end="url(#mb)"/><path transform="scale(.25)" d="M428 1979 428 2004 428 1995 428 2005 428 2033 428 2039 428 1972" fill="none" marker-start="url(#mo)" marker-mid="url(#mo)" marker-end="url(#mo)"/><path transform="scale(.25)" d="M428 2049 386 1954 314 1932 281 1941 296 1931 296 2065 230 2070 224 2068 422 1943 380 2068 248 1950 416 1955 428 2028 377 1896 371 1935 272 1918 392 1931 410 1922 191 2084 233 1963 335 1912 269 1942 398 1945 299 1955 425 1979 284 1920 260 1945 356 1930 344 1898 341 1919 374 1939 428 2043 398 1934 368 1935 419 2087 383 1953 290 1937 233 1966 305 1933 272 1951 401 1939 200 2007 287 2065 263 1932 183 2050 278 1918 425 2047 422 1974 272 1925 314 1926 245 1958 275 2066 263 1952 257 2068 317 1894 215 2073 353 1935 239 2069 183 2064 359 2066 374 1947 314 1901 338 1859 359 2065 326 1912 278 1952 332 1898 362 1910 428 2026 296 1910 398 1936 194 2083 362 1906 183 2024 428 2011 413 1946 371 1957 302 1913 263 1942 392 1934 380 1943 197 2082 314 1925 329 1929 236 1964 386 1908 183 2078 419 2068 371 1916 191 2008 392 1958 320 1920 356 1900 314 1946 251 2068 194 2013 203 2008 183 2041 380 1909 356 1907 374 1962 290 1959 401 2069 230 1969 407 2063 377 1905 248 1952 203 2015 410 1973 398 1952 209 2075 197 2080 233 1944 239 1951 224 2066 281 1959 428 2017 302 2086 344 1930 392 1921 410 1930 290 2065 407 2062 278 1926 257 1961 183 2028 183 2088 293 1934 425 1923 251 1966 317 1943 329 1917 341 1951 305 1841 320 2065 184 2037 326 1878 416 1975 404 1971 428 2016 350 1929 386 2059 314 2070 308 1900 386 1937 371 1927 386 1958 212 1992 185 2088 224 1990 287 1953 215 2073 425 2006 413 1954 320 1949 302 1957 185 2011 203 2019 230 1980 404 2058 183 2060 407 1945 197 2020 305 1956 266 1947 269 1950 272 1960 230 2062 308 1950 350 2065 281 1908 302 1942 428 2054 350 1911 311 2066 197 2077 251 1981 311 2059 338 1953 233 1736 236 1968 395 2070 245 1966 308 1915 425 2063 356 1941 422 1978 296 1943 302 1888 353 2062 386 2046 290 1962 284 1932 206 2022 419 1978 320 1930 374 1919 230 2061 242 1966 380 1916 251 1991 302 2069 383 2040 275 1936 308 1956 272 2059 221 2071 368 1965 242 1984 278 2069 200 2075 184 2041 383 2057 326 1953 350 1951 284 2061 317 1895 209 2000 329 2059 245 1921 392 2061 407 1959 183 2081 407 2051 422 1962 419 1972 401 2051 392 2051 302 2061 425 2042 377 1922 242 2068 353 1964 197 2025 377 2052 338 1922 251 1943 242 2064 401 2043 221 1978 392 2048 194 2077 254 1873 209 2023 183 2010 422 1987 284 1950 428 1998 185 2023 296 2055 380 1986 413 1963 332 1995 311 1966 200 2031 242 1979 209 2012 263 2066 218 1997 383 1967 299 1921 356 1977 305 1925 323 1963 419 1963 299 2056 380 1964 257 1986 341 1938 329 1987 248 1816 425 2057 374 1980 326 1942 428 2035 416 1984 281 1966 341 2068 356 1974 326 1927 186 2082 299 1966 242 1952 272 1967 183 2069 194 2074 197 2027 398 2058 404 1995 422 2003 200 2032 317 2057 392 2043 338 2058 374 2057 347 1904 368 2047 398 1972 368 1981 248 2061 404 1985 257 2062 389 2034 389 2019 359 2034 326 1950 425 1993 272 1961 305 2052 187 2028 419 1983 299 1983 410 2059 374 1976 392 2066 311 2057 320 1954 290 1977 320 1963 410 2042 428 2024 386 1973 183 2054 347 2042 188 2082 341 1956 221 2001 185 2045 416 1958 395 2047 263 2056 356 1955 401 1971 233 1986 184 2057 188 2083 383 1926 362 1948 350 1944 236 2002 183 2039 341 1994 422 2047 419 2005 428 1990 395 2015 311 2043 302 1993 281 1991 368 1937 200 2071 365 1998 184 2080 386 2013 212 2007 299 2050 380 1993 284 1976 293 1985 233 1974 410 1952 347 1969 323 1994 206 2071 293 2002 314 1975 419 1980 344 1996 356 1988 260 1962 311 1987 188 2049 184 2072 290 1987 230 2014 341 2060 239 2021 362 1969 377 1989 275 1935 272 1974 416 1970 335 1942 380 1967 287 2049 347 2042 293 2015 392 2036 329 2067 308 1958 218 2069 302 2061 353 2009 305 1971 320 1993 374 2054 183 2050 347 2017 183 2050 191 2031 308 2001 392 1987 335 2049 224 2061 398 2021 183 2018 338 2006 320 2002 287 1996 410 1932 239 2015 335 1988 425 1989 419 2061 323 2022 419 2014 335 1933 311 1997 317 1953 383 2023 308 2042 329 1977 335 1962 314 1986 278 1978 344 2000 278 1961 266 1924 263 2051 323 2010 227 2016 350 2030 365 2067 317 2042 236 2054 299 2007 416 2056 183 2066 299 2046 287 2001 183 2060 344 1985 416 2052 413 2035 281 2015 371 1969 326 1970 212 2071 410 2065 218 2009 341 1973 404 2019 368 1990 356 2049 362 2053 272 2019 293 1994 374 1992 377 2066 188 2053 317 1991 374 2041 341 2046 197 2031 344 2067 314 2017 362 2047 350 2058 362 1943 383 1948 236 1986 212 2000 305 1974 239 2000 425 2023 332 2024 272 2036 227 2060 305 1914 401 1996 191 2050 227 2052 263 2035 407 2014 206 2043 314 2007 287 2009 266 2002 398 1987 344 1959 380 2025 305 2019 194 2072 341 2040 266 1981 428 2013 311 2019 359 2009 308 2007 209 2036 284 2011 236 2065 248 2010 278 2057 365 1957 377 2066 224 2055 257 2005 383 1996 392 1998 320 2028 233 1990 389 2007 326 2038 425 2021 395 1964 341 1967 320 1980 281 2050 284 2025 251 2059 221 2044 209 2071 281 2031 395 2041 212 2031 212 2046 263 1994 419 2031 242 2004 236 2030 359 2064 215 2057 371 1997 380 1998 383 2005 329 2002 365 2017 347 2050 416 2031 290 2045 359 1957 296 2045 191 2052 395 2014 311 2013 377 2016 305 2028 296 2022 266 2055 242 2051 320 1979 269 2002 293 2021 257 2015 287 1977 194 2024 395 2029 359 2010 242 1987 236 2033 236 2039 293 2063 221 2044 356 2059 395 1989 191 2063 185 2057 287 2033 362 2039 251 2004 221 2018 218 2024 368 1886 293 1759 341 2038 332 2051 266 2026 239 2047 296 1945 260 2037 377 2042 323 2040 317 1976 410 1968 341 2055 305 2036 347 2025 311 2024 245 2055 362 1988 242 1992 401 1977 215 2020 401 2012 209 2014 239 2000 248 2044 341 2015 200 2070 386 2000 290 2031 184 2032 221 2021 224 2035 248 2000 404 2012 311 2035 275 2024 362 2006 224 2025 407 2038 221 2039 320 2035 386 2039 401 2028 422 2039 362 2056 368 2028 212 2025 392 1979 326 1997 281 2049 422 2047 290 1997 368 2010 257 1981 335 2034 305 2040 302 1993 263 1974 302 1990 212 2063 353 2016 209 2069 197 2068 401 2009 335 1891 377 2009 203 2057 356 1944 326 2014 335 2026 224 2027 353 1976 416 1965 338 1933 344 2003 272 1988 248 2024 290 2002 317 1987 413 2019 416 2062 335 2012 230 1989 422 2032 293 1965 299 1970 287 1963 197 2050 338 1916 377 2019 308 2035 407 2002 254 2048 188 2033 365 2010 296 2031 254 1993 221 2061 398 1996 380 1995 401 2038 320 2044 410 2032 323 2029 302 1945 263 2063 329 2032 344 2032 251 1971 332 1973 245 2037 332 2031 230 2022 233 2039 398 2046 359 2031 419 2067 260 1971 347 1960 275 2046 227 2002 329 2006 278 2004 311 2013 194 2063 266 2041 416 1993 326 2055 359 2021 293 1990 380 2029 269 2046 200 2054 365 2006 230 2025 353 1998 335 1977 233 2021 269 2014 266 1977 197 2040 239 2015 308 2068 368 1996 266 1975 257 2032 284 2037 248 2002 296 1913 374 2039 290 1994 371 2026 260 1869 260 2022 275 2000 359 2044 425 1965 377 1975 344 1967 308 2042" fill="none" marker-start="url(#mb)" marker-mid="url(#mb)" marker-end="url(#mb)"/><path transform="scale(.25)" d="M786 1949 786 2070 786 1896 614 1894 614 1859 786 1916 786 1907 786 2063 786 2062 614 1841 614 1878 614 1900 614 2088 786 1954 614 1908 786 1911 786 1736 786 1941 614 1888 786 1930 786 2069 614 1895 786 1922 614 1873 614 1921 786 1925 614 1938 786 1816 614 1927 614 2074 614 1904 786 1958 614 2083 614 1926 786 1937 614 2080 786 1986 614 2072 786 1960 614 1935 614 1942 786 2036 614 1933 614 1953 614 1924 786 1969 786 2019 786 2046 614 1943 614 1948 786 2042 786 1996 614 2072 786 1964 786 1980 786 2031 786 2014 786 1997 614 1957 786 2022 786 2051 786 2010 786 2059 614 1886 786 1759 614 1945 786 2040 786 2055 614 2070 786 2000 614 1981 786 1990 614 2069 614 2068 786 1891 786 2009 614 2057 614 1944 786 2026 614 1933 614 1987 614 1989 614 2050 614 1916 614 2048 614 2010 614 2061 786 2038 614 1945 614 1973 614 2031 614 2067 786 1971 614 1960 614 2006 614 2004 614 2013 614 2063 614 1990 786 2029 614 2046 614 2054 786 2006 614 1977 614 2021 614 2014 614 1977 614 2015 786 2068 614 1975 614 2032 614 2037 614 2002 614 1913 786 2039 614 1994 614 2026 614 1869 614 2022 614 2000 614 2044 614 1965 786 1975 614 1967 614 2042" fill="none" marker-start="url(#mb)" marker-mid="url(#mb)" marker-end="url(#mb)"/><path transform="scale(.25)" d="M1185 1945 1005 1859 1185 1912 1185 1946 1185 1952 1185 2058 1005 1841 1005 1878 1005 1900 1005 2088 1005 1908 1005 1911 1185 2005 1005 1736 1185 2070 1185 1968 1185 1962 1005 1895 1185 1962 1005 1873 1185 2013 1185 2006 1005 1921 1185 1993 1005 1816 1185 2014 1005 1927 1005 2074 1185 2015 1005 1904 1185 2066 1185 1973 1185 1979 1185 2019 1185 1985 1005 2083 1005 1926 1185 1999 1185 2052 1185 2005 1005 1937 1005 2080 1185 1986 1185 2023 1005 2072 1005 1935 1005 1942 1185 2034 1185 1989 1005 1933 1005 1953 1005 1924 1185 2032 1185 1971 1185 2046 1005 1943 1005 1948 1005 2072 1185 2028 1185 1997 1185 2017 1005 1957 1005 1886 1005 1759 1005 1945 1185 2024 1005 2070 1185 2039 1005 1981 1005 2069 1005 1891 1005 2057 1005 1944 1005 1933 1005 1987 1185 2062 1005 1989 1005 2050 1005 1916 1005 2048 1005 2010 1005 2061 1005 1945 1185 2046 1005 1971 1005 1960 1005 2006 1005 2013 1005 2063 1185 2055 1005 1990 1005 2029 1005 2046 1005 2054 1005 2006 1005 1977 1005 2021 1005 2014 1005 1977 1005 2015 1005 2068 1005 1975 1005 2032 1005 2037 1005 2002 1005 1913 1005 2039 1005 1994 1005 2026 1005 1869 1005 2022 1005 2000 1005 2044 1005 1965 1005 1975 1005 1967 1005 2042" fill="none" marker-start="url(#mb)" marker-mid="url(#mb)" marker-end="url(#mb)"/><path transform="scale(.25)" d="M1545 2054 1579 2006 1573 1972" fill="none" marker-start="url(#mo)" marker-mid="url(#mo)" marker-end="url(#mo)"/><path transform="scale(.25)" d="M1588 2001 1452 2082 1570 2038 1525 2071 1501 1928 1505 1978 1586 1962 1506 1960 1517 1963 1583 1943 1387 1953 1448 1950 1388 1983 1544 1955 1532 1896 1564 1940 1516 1935 1534 1962 1506 1951 1440 2084 1456 1965 1522 1961 1414 1912 1545 1923 1571 2020 1524 1955 1451 1945 1503 1977 1567 1965 1587 2041 1570 2017 1494 1930 1531 1898 1572 2005 1431 1919 1544 1939 1473 1956 1518 2053 1566 1935 1425 2087 1521 1953 1535 1937 1531 1932 1503 2046 1393 1918 1497 1966 1529 2052 1539 1926 1423 2079 1491 1894 1490 2073 1433 1901 1403 1859 1475 2083 1387 1990 1472 1971 1558 1898 1433 1910 1429 1910 1395 1936 1403 2083 1523 1906 1510 1949 1464 1957 1528 1913 1393 2084 1559 1934 1432 1929 1506 1964 1500 2066 1550 1908 1399 1916 1585 2009 1533 1920 1561 1970 1517 1900 1427 1909 1567 1907 1556 1981 1546 1959 1387 2079 1454 2072 1516 1952 1387 2053 1533 1965 1400 1905 1518 1971 1508 1964 1454 2072 1388 1980 1388 2068 1502 1989 1480 2062 1548 2056 1520 2000 1420 2086 1540 1930 1539 1921 1528 1961 1495 2054 1505 1980 1448 1930 1399 1926 1493 2046 1417 2088 1432 1934 1539 1965 1521 1923 1414 1917 1554 1951 1534 1841 1547 1940 1390 2080 1569 2043 1387 2007 1536 1878 1560 1984 1530 1971 1388 1979 1560 2008 1529 1989 1462 1963 1534 1977 1388 1992 1465 1929 1508 1994 1517 1900 1518 1975 1406 1927 1463 2088 1542 2046 1556 2011 1483 1953 1463 1970 1552 1958 1448 1968 1565 1954 1549 2043 1387 1949 1569 2025 1470 2053 1513 2032 1505 2024 1478 2016 1484 2072 1488 2063 1492 1968 1472 1987 1477 1961 1517 1988 1567 2017 1516 1980 1522 1945 1396 1977 1458 1950 1541 2041 1438 1950 1542 1969 1561 2014 1405 1950 1388 1963 1548 1970 1551 2001 1494 2071 1388 2062 1492 2057 1404 1908 1519 2007 1439 1942 1401 1950 1484 1911 1388 2006 1571 2009 1388 1989 1472 2072 1569 2004 1465 2055 1393 1736 1560 2041 1450 2070 1434 1915 1464 2063 1558 1941 1539 1978 1493 1888 1444 1960 1475 2017 1392 1972 1422 1932 1557 2030 1530 1991 1459 2075 1408 1930 1552 1962 1403 1919 1402 2076 1505 2041 1572 1977 1485 1966 1429 1916 1511 1994 1553 2037 1388 2006 1528 1986 1405 1936 1387 2059 1434 2075 1453 1988 1443 2082 1520 2005 1514 1953 1458 1951 1521 2061 1536 1951 1506 1996 1492 1895 1525 2033 1531 1994 1464 2058 1498 1921 1529 1960 1475 2081 1526 2051 1564 1972 1518 2051 1559 2042 1417 1922 1546 1977 1498 2068 1487 2054 1479 2013 1560 2052 1411 1922 1501 2031 1507 2000 1425 1943 1387 2029 1550 2005 1445 1919 1550 1982 1514 1995 1425 2077 1495 2010 1549 1978 1389 1873 1519 2046 1436 2082 1520 2020 1554 2047 1389 2032 1558 2012 1477 2048 1527 1999 1530 2013 1454 1973 1474 2021 1534 1991 1563 1986 1489 2053 1520 2001 1491 2004 1437 2066 1530 2044 1487 2028 1388 2016 1501 1979 1539 2029 1439 2066 1520 1921 1557 2020 1421 1925 1424 1963 1432 1954 1507 2015 1493 2016 1530 2018 1485 2013 1556 1993 1407 1938 1513 2022 1401 1816 1527 1980 1394 1942 1446 1966 1450 2064 1475 2067 1546 2030 1475 2004 1511 2001 1410 1927 1415 2082 1388 1966 1476 2003 1414 1952 1438 1967 1404 2074 1519 2022 1487 2010 1589 1998 1387 2003 1526 2030 1445 1904 1388 2021 1493 1985 1444 1950 1432 1961 1466 2009 1488 2015 1520 2038 1490 2052 1521 1983 1518 1976 1431 1954 1554 2040 1535 2022 1514 2042 1397 1973 1509 2001 1388 2016 1554 2015 1484 2032 1415 2082 1531 2040 1413 1956 1462 2068 1499 1997 1535 2023 1486 2042 1527 2038 1509 2013 1485 1990 1439 1958 1548 1985 1507 2005 1538 1998 1499 2013 1419 1955 1512 2005 1388 1986 1586 2004 1573 2025 1406 2083 1474 2000 1548 1926 1516 2007 1519 1948 1416 1944 1584 1994 1390 1990 1546 2015 1428 1937 1394 2071 1410 2080 1393 1993 1486 1976 1464 2053 1494 1952 1464 1986 1407 2071 1569 1996 1491 2025 1394 1962 1449 2019 1458 2019 1404 2072 1535 2021 1432 1960 1389 1969 1444 2070 1541 1989 1475 1935 1397 1970 1448 1942 1489 1967 1491 2042 1459 2011 1477 2034 1439 1977 1471 1958 1422 2069 1529 2009 1505 2054 1464 2046 1558 1996 1534 2001 1441 1987 1388 2024 1455 2005 1573 2024 1547 1932 1446 2009 1472 2015 1440 1988 1523 2023 1518 1933 1486 1997 1473 1974 1484 2005 1429 1953 1518 2023 1430 1977 1395 1986 1404 1961 1413 1924 1483 2054 1490 2027 1538 2007 1457 2059 1396 2064 1503 2027 1450 2001 1476 1985 1488 2030 1387 1969 1404 1970 1551 2028 1498 2071 1441 2065 1462 2058 1500 1973 1568 1990 1390 2024 1547 2004 1458 1991 1461 2041 1394 2017 1475 2032 1424 1943 1567 1948 1425 1986 1458 1974 1549 2023 1441 2060 1522 2003 1401 2003 1494 1914 1557 1996 1448 2050 1392 2014 1474 2043 1389 2009 1412 1959 1461 2025 1430 2019 1414 2072 1465 2013 1525 1981 1561 2013 1510 2011 1460 1957 1445 2066 1438 2055 1499 1998 1460 2028 1530 2029 1400 2021 1414 1964 1397 1967 1401 1980 1442 2025 1388 2059 1402 2071 1450 2041 1449 2046 1448 2031 1405 2064 1490 2014 1455 2057 1388 1997 1528 2002 1401 2017 1405 2050 1387 2036 1568 2031 1395 1957 1406 2052 1450 1979 1456 2027 1443 2021 1412 1977 1443 2029 1570 2010 1443 1987 1471 2033 1387 2039 1396 2063 1387 2044 1405 2059 1437 1989 1406 2057 1499 2039 1442 2018 1530 1886 1389 1759 1442 2038 1555 2051 1453 2026 1387 1997 1388 2047 1416 1945 1494 1976 1460 2055 1446 2025 1444 2024 1418 1988 1426 1992 1566 1977 1465 2000 1429 2070 1450 2000 1494 2032 1473 2027 1387 2000 1444 2012 1462 2038 1439 2035 1434 2056 1487 1979 1398 1997 1431 2049 1421 2047 1442 2010 1416 1981 1421 2040 1437 1993 1466 1974 1472 1990 1410 2063 1426 2069 1476 2068 1433 1891 1539 2009 1423 2057 1393 1944 1433 2014 1397 2027 1548 1976 1418 1965 1419 1933 1419 2003 1407 1988 1401 2024 1426 2002 1515 1987 1413 2062 1424 2012 1454 1989 1433 2032 1399 1965 1422 1970 1490 1963 1387 2050 1387 1916 1420 2019 1402 2002 1409 2048 1446 2010 1410 1993 1463 2061 1550 1996 1448 1995 1394 2038 1494 2044 1568 2032 1472 2029 1421 1945 1416 2063 1394 2032 1431 1971 1427 1973 1413 2031 1407 2022 1429 2039 1452 2046 1449 2031 1424 2067 1411 1971 1399 1960 1414 2046 1432 2002 1514 2006 1406 2004 1412 2013 1429 2063 1433 2041 1459 1993 1395 2055 1404 1990 1395 2029 1442 2046 1414 2054 1548 2006 1404 2025 1392 1998 1416 1977 1468 2021 1412 2014 1413 1977 1397 2040 1402 2015 1415 2068 1433 1996 1419 1975 1426 2032 1403 2037 1427 2002 1518 1913 1397 2039 1413 1994 1425 2026 1411 1869 1421 2022 1437 2000 1490 2044 1547 1965 1524 1975 1427 1967 1409 2042" fill="none" marker-start="url(#mb)" marker-mid="url(#mb)" marker-end="url(#mb)"/><path d="M437.6 527.8L437.6 527.8 437.75 527.8 437.9 527.8 438.06 527.79 438.21 527.79 438.36 527.79 438.51 527.79 438.66 527.78 438.81 527.78 438.97 527.77 439.12 527.77 439.27 527.76 439.42 527.75 439.57 527.74 439.72 527.72 439.88 527.71 440.03 527.69 440.18 527.67 440.33 527.65 440.48 527.62 440.63 527.6 440.79 527.57 440.94 527.53 441.09 527.5 441.24 527.46 441.39 527.43 441.54 527.39 441.7 527.35 441.85 527.31 442 527.26 442.15 527.22 442.3 527.18 442.45 527.13 442.61 527.09 442.76 527.05 442.91 527 443.06 526.95 443.21 526.9 443.37 526.85 443.52 526.8 443.67 526.74 443.82 526.69 443.97 526.62 444.12 526.56 444.28 526.48 444.43 526.41 444.58 526.33 444.73 526.24 444.88 526.15 445.03 526.05 445.19 525.95 445.34 525.85 445.49 525.74 445.64 525.63 445.79 525.51 445.94 525.4 446.1 525.28 446.25 525.15 446.4 525.03 446.55 524.91 446.7 524.79 446.85 524.67 447.01 524.55 447.16 524.43 447.31 524.31 447.46 524.19 447.61 524.08 447.76 523.97 447.92 523.86 448.07 523.75 448.22 523.64 448.37 523.54 448.52 523.44 448.67 523.34 448.83 523.24 448.98 523.15 449.13 523.05 449.28 522.97 449.43 522.88 449.58 522.8 449.74 522.73 449.89 522.66 450.04 522.59 450.19 522.53 450.34 522.48 450.49 522.43 450.65 522.39 450.8 522.35 450.95 522.32 451.1 522.3 451.25 522.28 451.4 522.26 451.56 522.25 451.71 522.24 451.86 522.24 452.01 522.25 452.16 522.26 452.31 522.28 452.47 522.3 452.62 522.34 452.77 522.38 452.92 522.43 453.07 522.49 453.22 522.55 453.38 522.63 453.53 522.72 453.68 522.81 453.83 522.91 453.98 523.01 454.13 523.13 454.29 523.24 454.44 523.36 454.59 523.48 454.74 523.6 454.89 523.73 455.04 523.85 455.2 523.97 455.35 524.08 455.5 524.2 455.65 524.3 455.8 524.41 455.95 524.51 456.11 524.6 456.26 524.69 456.41 524.77 456.56 524.85 456.71 524.92 456.86 524.99 457.02 525.06 457.17 525.12 457.32 525.18 457.47 525.24 457.62 525.3 457.77 525.36 457.93 525.42 458.08 525.48 458.23 525.54 458.38 525.61 458.53 525.67 458.68 525.74 458.84 525.81 458.99 525.88 459.14 525.96 459.29 526.04 459.44 526.11 459.59 526.19 459.75 526.27 459.9 526.35 460.05 526.43 460.2 526.51 460.35 526.58 460.51 526.66 460.66 526.73 460.81 526.8 460.96 526.87 461.11 526.93 461.26 526.99 461.42 527.05 461.57 527.1 461.72 527.16 461.87 527.2 462.02 527.25 462.17 527.29 462.33 527.33 462.48 527.37 462.63 527.4 462.78 527.44 462.93 527.47 463.08 527.49 463.24 527.52 463.39 527.55 463.54 527.57 463.69 527.59 463.84 527.61 463.99 527.63 464.15 527.65 464.3 527.67 464.45 527.68 464.6 527.7 464.75 527.71 464.9 527.72 465.06 527.73 465.21 527.74 465.36 527.75 465.51 527.76 465.66 527.77 465.81 527.77 465.97 527.78 466.12 527.78 466.27 527.79 466.42 527.79 466.57 527.79 466.72 527.79 466.88 527.79 467.03 527.8 467.18 527.8 467.33 527.8 467.48 527.8 467.63 527.8 467.79 527.8L467.79 527.8Z" fill="#ff7f0e" fill-opacity=".25" stroke="#e0a060" stroke-width="0.75" stroke-linejoin="round"/><path d="M432.18 527.8L432.18 527.8 432.57 527.79 432.97 527.77 433.37 527.74 433.77 527.67 434.17 527.53 434.57 527.31 434.97 526.97 435.37 526.48 435.77 525.83 436.17 525 436.57 523.96 436.97 522.68 437.37 521.09 437.77 519.11 438.17 516.72 438.57 513.94 438.97 510.84 439.37 507.53 439.77 504.04 440.17 500.41 440.57 496.63 440.97 492.73 441.37 488.8 441.77 484.94 442.17 481.2 442.57 477.6 442.97 474.05 443.37 470.48 443.77 466.81 444.16 463.04 444.56 459.26 444.96 455.56 445.36 452.03 445.76 448.72 446.16 445.63 446.56 442.8 446.96 440.29 447.36 438.18 447.76 436.54 448.16 435.36 448.56 434.59 448.96 434.2 449.36 434.18 449.76 434.53 450.16 435.24 450.56 436.3 450.96 437.73 451.36 439.54 451.76 441.72 452.16 444.21 452.56 446.97 452.96 449.97 453.36 453.2 453.76 456.65 454.16 460.36 454.56 464.3 454.96 468.47 455.35 472.8 455.75 477.2 456.15 481.53 456.55 485.65 456.95 489.41 457.35 492.7 457.75 495.46 458.15 497.76 458.55 499.73 458.95 501.52 459.35 503.22 459.75 504.88 460.15 506.47 460.55 508.01 460.95 509.49 461.35 510.94 461.75 512.35 462.15 513.71 462.55 514.98 462.95 516.17 463.35 517.26 463.75 518.26 464.15 519.19 464.55 520.03 464.95 520.76 465.35 521.39 465.75 521.9 466.15 522.31 466.55 522.63 466.94 522.88 467.34 523.07 467.74 523.25 468.14 523.41 468.54 523.59 468.94 523.78 469.34 523.97 469.74 524.18 470.14 524.4 470.54 524.63 470.94 524.86 471.34 525.11 471.74 525.35 472.14 525.59 472.54 525.82 472.94 526.03 473.34 526.22 473.74 526.37 474.14 526.5 474.54 526.61 474.94 526.71 475.34 526.81 475.74 526.92 476.14 527.03 476.54 527.15 476.94 527.25 477.34 527.35 477.74 527.42 478.13 527.47 478.53 527.5 478.93 527.52 479.33 527.52 479.73 527.53 480.13 527.54 480.53 527.56 480.93 527.58 481.33 527.61 481.73 527.63 482.13 527.65 482.53 527.66 482.93 527.68 483.33 527.7 483.73 527.72 484.13 527.73 484.53 527.74 484.93 527.74 485.33 527.73 485.73 527.72 486.13 527.7 486.53 527.7 486.93 527.7 487.33 527.72 487.73 527.74 488.13 527.75 488.53 527.77 488.93 527.78 489.33 527.78 489.72 527.77 490.12 527.75 490.52 527.73 490.92 527.72 491.32 527.7 491.72 527.7 492.12 527.71 492.52 527.72 492.92 527.74 493.32 527.76 493.72 527.78 494.12 527.79 494.52 527.79 494.92 527.8 495.32 527.8 495.72 527.8 496.12 527.8 496.52 527.8 496.92 527.8 497.32 527.8 497.72 527.8 498.12 527.8 498.52 527.8 498.92 527.8 499.32 527.8 499.72 527.8 500.12 527.8 500.52 527.79 500.92 527.79 501.31 527.78 501.71 527.76 502.11 527.74 502.51 527.72 502.91 527.71 503.31 527.7 503.71 527.7 504.11 527.72 504.51 527.73 504.91 527.75 505.31 527.77 505.71 527.77 506.11 527.77 506.51 527.75 506.91 527.74 507.31 527.72 507.71 527.7 508.11 527.7 508.51 527.71 508.91 527.72 509.31 527.74 509.71 527.76 510.11 527.78 510.51 527.79 510.91 527.79 511.31 527.8 511.71 527.8L511.71 527.8Z" fill="#2468aa" fill-opacity=".25" stroke="#36709f" stroke-width="0.75" stroke-linejoin="round"/><path d="M30.79 9.1V107.3H119.07" fill="none" stroke="#404040" stroke-width="0.55"/><path d="M30.79 102.92h-2.2M30.79 81.13h-2.2M30.79 59.33h-2.2M30.79 37.54h-2.2M30.79 15.74h-2.2M43.94 107.3v2.2M62.71 107.3v2.2M81.49 107.3v2.2M100.26 107.3v2.2M119.03 107.3v2.2" fill="none" stroke="#1a1a1a" stroke-width="0.65"/><path d="M129.89 9.1V107.3H217.47" fill="none" stroke="#404040" stroke-width="0.55"/><path d="M129.89 102.92h-2.2M129.89 81.13h-2.2M129.89 59.33h-2.2M129.89 37.54h-2.2M129.89 15.74h-2.2M130.54 107.3v2.2M152.06 107.3v2.2M173.57 107.3v2.2M195.09 107.3v2.2M216.61 107.3v2.2" fill="none" stroke="#1a1a1a" stroke-width="0.65"/><path d="M228.39 9.1V107.3H316.67" fill="none" stroke="#404040" stroke-width="0.55"/><path d="M228.39 102.92h-2.2M228.39 81.13h-2.2M228.39 59.33h-2.2M228.39 37.54h-2.2M228.39 15.74h-2.2M249.96 107.3v2.2M272.53 107.3v2.2M295.09 107.3v2.2" fill="none" stroke="#1a1a1a" stroke-width="0.65"/><path d="M327.29 9.1V107.3H415.76" fill="none" stroke="#404040" stroke-width="0.55"/><path d="M327.29 102.92h-2.2M327.29 81.13h-2.2M327.29 59.33h-2.2M327.29 37.54h-2.2M327.29 15.74h-2.2M332.65 107.3v2.2M356.37 107.3v2.2M380.09 107.3v2.2M403.81 107.3v2.2" fill="none" stroke="#1a1a1a" stroke-width="0.65"/><path d="M426.08 9.1V107.3H515.06" fill="none" stroke="#404040" stroke-width="0.55"/><path d="M426.08 102.92h-2.2M426.08 81.13h-2.2M426.08 59.33h-2.2M426.08 37.54h-2.2M426.08 15.74h-2.2M446.19 107.3v2.2M467.25 107.3v2.2M488.3 107.3v2.2M509.36 107.3v2.2" fill="none" stroke="#1a1a1a" stroke-width="0.65"/><path d="M30.79 113.1V210.9H119.07" fill="none" stroke="#404040" stroke-width="0.55"/><path d="M30.79 206.45h-2.2M30.79 188.67h-2.2M30.79 170.89h-2.2M30.79 153.11h-2.2M30.79 135.33h-2.2M30.79 117.55h-2.2M43.94 210.9v2.2M62.71 210.9v2.2M81.49 210.9v2.2M100.26 210.9v2.2M119.03 210.9v2.2" fill="none" stroke="#1a1a1a" stroke-width="0.65"/><path d="M129.89 113.1V210.9H217.47" fill="none" stroke="#404040" stroke-width="0.55"/><path d="M129.89 206.45h-2.2M129.89 188.67h-2.2M129.89 170.89h-2.2M129.89 153.11h-2.2M129.89 135.33h-2.2M129.89 117.55h-2.2M130.54 210.9v2.2M152.06 210.9v2.2M173.57 210.9v2.2M195.09 210.9v2.2M216.61 210.9v2.2" fill="none" stroke="#1a1a1a" stroke-width="0.65"/><path d="M228.39 113.1V210.9H316.67" fill="none" stroke="#404040" stroke-width="0.55"/><path d="M228.39 206.45h-2.2M228.39 188.67h-2.2M228.39 170.89h-2.2M228.39 153.11h-2.2M228.39 135.33h-2.2M228.39 117.55h-2.2M249.96 210.9v2.2M272.53 210.9v2.2M295.09 210.9v2.2" fill="none" stroke="#1a1a1a" stroke-width="0.65"/><path d="M327.29 113.1V210.9H415.76" fill="none" stroke="#404040" stroke-width="0.55"/><path d="M327.29 206.45h-2.2M327.29 188.67h-2.2M327.29 170.89h-2.2M327.29 153.11h-2.2M327.29 135.33h-2.2M327.29 117.55h-2.2M332.65 210.9v2.2M356.37 210.9v2.2M380.09 210.9v2.2M403.81 210.9v2.2" fill="none" stroke="#1a1a1a" stroke-width="0.65"/><path d="M426.08 113.1V210.9H515.06" fill="none" stroke="#404040" stroke-width="0.55"/><path d="M426.08 206.45h-2.2M426.08 188.67h-2.2M426.08 170.89h-2.2M426.08 153.11h-2.2M426.08 135.33h-2.2M426.08 117.55h-2.2M446.19 210.9v2.2M467.25 210.9v2.2M488.3 210.9v2.2M509.36 210.9v2.2" fill="none" stroke="#1a1a1a" stroke-width="0.65"/><path d="M30.79 216.8V314.6H119.07" fill="none" stroke="#404040" stroke-width="0.55"/><path d="M30.79 310.15h-2.2M30.79 292.37h-2.2M30.79 274.59h-2.2M30.79 256.81h-2.2M30.79 239.03h-2.2M30.79 221.25h-2.2M43.94 314.6v2.2M62.71 314.6v2.2M81.49 314.6v2.2M100.26 314.6v2.2M119.03 314.6v2.2" fill="none" stroke="#1a1a1a" stroke-width="0.65"/><path d="M129.89 216.8V314.6H217.47" fill="none" stroke="#404040" stroke-width="0.55"/><path d="M129.89 310.15h-2.2M129.89 292.37h-2.2M129.89 274.59h-2.2M129.89 256.81h-2.2M129.89 239.03h-2.2M129.89 221.25h-2.2M130.54 314.6v2.2M152.06 314.6v2.2M173.57 314.6v2.2M195.09 314.6v2.2M216.61 314.6v2.2" fill="none" stroke="#1a1a1a" stroke-width="0.65"/><path d="M228.39 216.8V314.6H316.67" fill="none" stroke="#404040" stroke-width="0.55"/><path d="M228.39 310.15h-2.2M228.39 292.37h-2.2M228.39 274.59h-2.2M228.39 256.81h-2.2M228.39 239.03h-2.2M228.39 221.25h-2.2M249.96 314.6v2.2M272.53 314.6v2.2M295.09 314.6v2.2" fill="none" stroke="#1a1a1a" stroke-width="0.65"/><path d="M327.29 216.8V314.6H415.76" fill="none" stroke="#404040" stroke-width="0.55"/><path d="M327.29 310.15h-2.2M327.29 292.37h-2.2M327.29 274.59h-2.2M327.29 256.81h-2.2M327.29 239.03h-2.2M327.29 221.25h-2.2M332.65 314.6v2.2M356.37 314.6v2.2M380.09 314.6v2.2M403.81 314.6v2.2" fill="none" stroke="#1a1a1a" stroke-width="0.65"/><path d="M426.08 216.8V314.6H515.06" fill="none" stroke="#404040" stroke-width="0.55"/><path d="M426.08 310.15h-2.2M426.08 292.37h-2.2M426.08 274.59h-2.2M426.08 256.81h-2.2M426.08 239.03h-2.2M426.08 221.25h-2.2M446.19 314.6v2.2M467.25 314.6v2.2M488.3 314.6v2.2M509.36 314.6v2.2" fill="none" stroke="#1a1a1a" stroke-width="0.65"/><path d="M32.5 324.5V423.4H120.6" fill="none" stroke="#404040" stroke-width="0.55"/><path d="M32.5 421.21h-2.2M32.5 400.55h-2.2M32.5 379.88h-2.2M32.5 359.22h-2.2M32.5 338.55h-2.2M45.62 423.4v2.2M64.35 423.4v2.2M83.09 423.4v2.2M101.83 423.4v2.2M120.56 423.4v2.2" fill="none" stroke="#1a1a1a" stroke-width="0.65"/><path d="M131.4 324.5V423.4H218.8" fill="none" stroke="#404040" stroke-width="0.55"/><path d="M131.4 421.21h-2.2M131.4 400.55h-2.2M131.4 379.88h-2.2M131.4 359.22h-2.2M131.4 338.55h-2.2M132.04 423.4v2.2M153.52 423.4v2.2M174.99 423.4v2.2M196.47 423.4v2.2M217.94 423.4v2.2" fill="none" stroke="#1a1a1a" stroke-width="0.65"/><path d="M229.7 324.5V423.4H317.8" fill="none" stroke="#404040" stroke-width="0.55"/><path d="M229.7 421.21h-2.2M229.7 400.55h-2.2M229.7 379.88h-2.2M229.7 359.22h-2.2M229.7 338.55h-2.2M251.23 423.4v2.2M273.75 423.4v2.2M296.27 423.4v2.2" fill="none" stroke="#1a1a1a" stroke-width="0.65"/><path d="M328.4 324.5V423.4H416.7" fill="none" stroke="#404040" stroke-width="0.55"/><path d="M328.4 421.21h-2.2M328.4 400.55h-2.2M328.4 379.88h-2.2M328.4 359.22h-2.2M328.4 338.55h-2.2M333.75 423.4v2.2M357.42 423.4v2.2M381.1 423.4v2.2M404.77 423.4v2.2" fill="none" stroke="#1a1a1a" stroke-width="0.65"/><path d="M427 324.5V423.4H515.8" fill="none" stroke="#404040" stroke-width="0.55"/><path d="M427 421.21h-2.2M427 400.55h-2.2M427 379.88h-2.2M427 359.22h-2.2M427 338.55h-2.2M447.06 423.4v2.2M468.08 423.4v2.2M489.09 423.4v2.2M510.11 423.4v2.2" fill="none" stroke="#1a1a1a" stroke-width="0.65"/><path d="M32.5 429.5V527.8H120.6" fill="none" stroke="#404040" stroke-width="0.55"/><path d="M32.5 513.4h-2.2M32.5 492.93h-2.2M32.5 472.46h-2.2M32.5 451.98h-2.2M32.5 431.51h-2.2M45.62 527.8v2.2M64.35 527.8v2.2M83.09 527.8v2.2M101.83 527.8v2.2M120.56 527.8v2.2" fill="none" stroke="#1a1a1a" stroke-width="0.65"/><path d="M131.4 429.5V527.8H218.8" fill="none" stroke="#404040" stroke-width="0.55"/><path d="M131.4 513.4h-2.2M131.4 492.93h-2.2M131.4 472.46h-2.2M131.4 451.98h-2.2M131.4 431.51h-2.2M132.04 527.8v2.2M153.52 527.8v2.2M174.99 527.8v2.2M196.47 527.8v2.2M217.94 527.8v2.2" fill="none" stroke="#1a1a1a" stroke-width="0.65"/><path d="M229.7 429.5V527.8H317.8" fill="none" stroke="#404040" stroke-width="0.55"/><path d="M229.7 513.4h-2.2M229.7 492.93h-2.2M229.7 472.46h-2.2M229.7 451.98h-2.2M229.7 431.51h-2.2M251.23 527.8v2.2M273.75 527.8v2.2M296.27 527.8v2.2" fill="none" stroke="#1a1a1a" stroke-width="0.65"/><path d="M328.4 429.5V527.8H416.7" fill="none" stroke="#404040" stroke-width="0.55"/><path d="M328.4 513.4h-2.2M328.4 492.93h-2.2M328.4 472.46h-2.2M328.4 451.98h-2.2M328.4 431.51h-2.2M333.75 527.8v2.2M357.42 527.8v2.2M381.1 527.8v2.2M404.77 527.8v2.2" fill="none" stroke="#1a1a1a" stroke-width="0.65"/><path d="M427 429.5V527.8H515.8" fill="none" stroke="#404040" stroke-width="0.55"/><path d="M427 513.4h-2.2M427 492.93h-2.2M427 472.46h-2.2M427 451.98h-2.2M427 431.51h-2.2M447.06 527.8v2.2M468.08 527.8v2.2M489.09 527.8v2.2M510.11 527.8v2.2" fill="none" stroke="#1a1a1a" stroke-width="0.65"/><circle cx="529.4" cy="276.1" r="1.9" fill="#1c6aad"/><circle cx="529.6" cy="285.2" r="1.9" fill="#ff7f0e"/><g font-family="DejaVu Sans, sans-serif" font-size="5.65" fill="#111" stroke="#111" stroke-width="0.22"><text transform="translate(26.64 105.19) scale(1 1.09)" text-anchor="end">0</text><text transform="translate(26.64 83.4) scale(1 1.09)" text-anchor="end">20</text><text transform="translate(26.64 61.6) scale(1 1.09)" text-anchor="end">40</text><text transform="translate(26.64 39.81) scale(1 1.09)" text-anchor="end">60</text><text transform="translate(26.64 18.01) scale(1 1.09)" text-anchor="end">80</text><text transform="translate(26.64 208.72) scale(1 1.09)" text-anchor="end">0.0</text><text transform="translate(26.64 190.94) scale(1 1.09)" text-anchor="end">0.2</text><text transform="translate(26.64 173.16) scale(1 1.09)" text-anchor="end">0.4</text><text transform="translate(26.64 155.38) scale(1 1.09)" text-anchor="end">0.6</text><text transform="translate(26.64 137.6) scale(1 1.09)" text-anchor="end">0.8</text><text transform="translate(26.64 119.82) scale(1 1.09)" text-anchor="end">1.0</text><text transform="translate(26.64 312.42) scale(1 1.09)" text-anchor="end">0.0</text><text transform="translate(26.64 294.64) scale(1 1.09)" text-anchor="end">0.2</text><text transform="translate(26.64 276.86) scale(1 1.09)" text-anchor="end">0.4</text><text transform="translate(26.64 259.08) scale(1 1.09)" text-anchor="end">0.6</text><text transform="translate(26.64 241.3) scale(1 1.09)" text-anchor="end">0.8</text><text transform="translate(26.64 223.52) scale(1 1.09)" text-anchor="end">1.0</text><text transform="translate(27.55 423.48) scale(1 1.09)" text-anchor="end">50</text><text transform="translate(27.55 402.82) scale(1 1.09)" text-anchor="end">100</text><text transform="translate(27.55 382.15) scale(1 1.09)" text-anchor="end">150</text><text transform="translate(27.55 361.49) scale(1 1.09)" text-anchor="end">200</text><text transform="translate(27.55 340.82) scale(1 1.09)" text-anchor="end">250</text><text transform="translate(27.55 515.67) scale(1 1.09)" text-anchor="end">20</text><text transform="translate(27.55 495.2) scale(1 1.09)" text-anchor="end">40</text><text transform="translate(27.55 474.73) scale(1 1.09)" text-anchor="end">60</text><text transform="translate(27.55 454.25) scale(1 1.09)" text-anchor="end">80</text><text transform="translate(27.55 433.78) scale(1 1.09)" text-anchor="end">100</text><text transform="translate(45.62 536.8) scale(1 1.09)" text-anchor="middle">0</text><text transform="translate(64.35 536.8) scale(1 1.09)" text-anchor="middle">25</text><text transform="translate(83.09 536.8) scale(1 1.09)" text-anchor="middle">50</text><text transform="translate(101.83 536.8) scale(1 1.09)" text-anchor="middle">75</text><text transform="translate(120.56 536.8) scale(1 1.09)" text-anchor="middle">100</text><text transform="translate(132.04 536.8) scale(1 1.09)" text-anchor="middle">−0.5</text><text transform="translate(153.52 536.8) scale(1 1.09)" text-anchor="middle">0.0</text><text transform="translate(174.99 536.8) scale(1 1.09)" text-anchor="middle">0.5</text><text transform="translate(196.47 536.8) scale(1 1.09)" text-anchor="middle">1.0</text><text transform="translate(217.94 536.8) scale(1 1.09)" text-anchor="middle">1.5</text><text transform="translate(251.23 536.8) scale(1 1.09)" text-anchor="middle">0.0</text><text transform="translate(273.75 536.8) scale(1 1.09)" text-anchor="middle">0.5</text><text transform="translate(296.27 536.8) scale(1 1.09)" text-anchor="middle">1.0</text><text transform="translate(333.75 536.8) scale(1 1.09)" text-anchor="middle">0</text><text transform="translate(357.42 536.8) scale(1 1.09)" text-anchor="middle">100</text><text transform="translate(381.1 536.8) scale(1 1.09)" text-anchor="middle">200</text><text transform="translate(404.77 536.8) scale(1 1.09)" text-anchor="middle">300</text><text transform="translate(447.06 536.8) scale(1 1.09)" text-anchor="middle">25</text><text transform="translate(468.08 536.8) scale(1 1.09)" text-anchor="middle">50</text><text transform="translate(489.09 536.8) scale(1 1.09)" text-anchor="middle">75</text><text transform="translate(510.11 536.8) scale(1 1.09)" text-anchor="middle">100</text><text transform="translate(15.9 59.2) scale(1 1.09) rotate(-90)" text-anchor="middle">age</text><text transform="translate(13.9 163) scale(1 1.09) rotate(-90)" text-anchor="middle">hypertension</text><text transform="translate(14.7 266.7) scale(1 1.09) rotate(-90)" text-anchor="middle">heart_disease</text><text transform="translate(14 374.95) scale(1 1.09) rotate(-90)" text-anchor="middle">avg_glucose_level</text><text transform="translate(12.6 479.65) scale(1 1.09) rotate(-90)" text-anchor="middle">bmi</text><text transform="translate(76.55 545.3) scale(1 1.09)" text-anchor="middle">age</text><text transform="translate(175.1 545.3) scale(1 1.09)" text-anchor="middle">hypertension</text><text transform="translate(273.75 545.3) scale(1 1.09)" text-anchor="middle">heart_disease</text><text transform="translate(372.55 545.3) scale(1 1.09)" text-anchor="middle">avg_glucose_level</text><text transform="translate(471.4 545.3) scale(1 1.09)" text-anchor="middle">bmi</text><text transform="translate(533.5 268.2) scale(1 1.09)" text-anchor="middle">stroke</text><text transform="translate(539.5 278.1) scale(1 1.09)">0</text><text transform="translate(539.5 287.2) scale(1 1.09)">1</text></g></g></svg></body></html>
